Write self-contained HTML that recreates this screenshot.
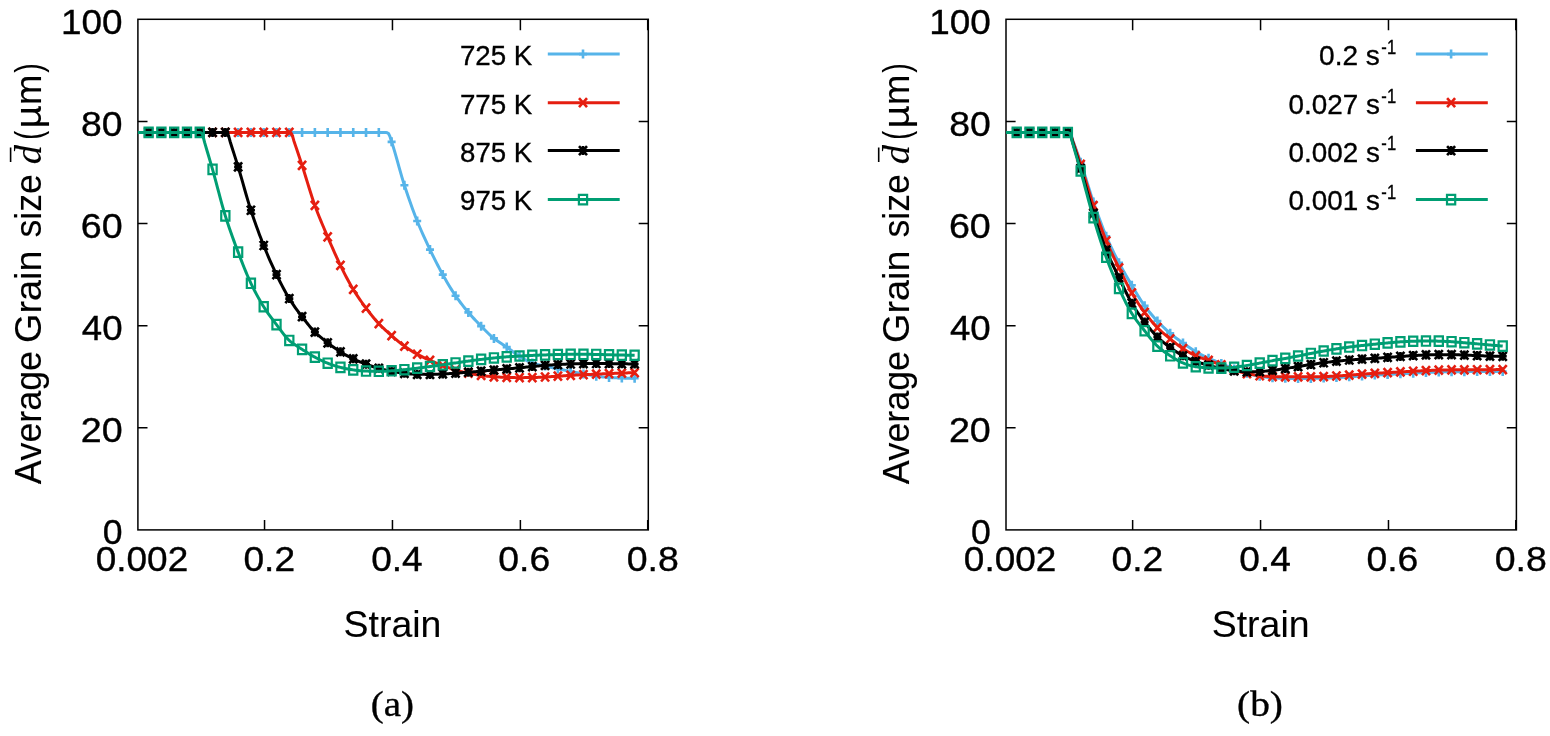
<!DOCTYPE html>
<html><head><meta charset="utf-8"><title>Average grain size vs strain</title>
<style>
html,body{margin:0;padding:0;background:#fff}
body{width:1550px;height:736px;overflow:hidden}
svg{display:block;filter:blur(0.7px)}
text{font-kerning:none;white-space:pre;stroke:#000;stroke-width:0.35px}
text.ax{stroke-width:0.1px}
</style></head><body>
<svg width="1550" height="736" viewBox="0 0 1550 736">
<rect width="1550" height="736" fill="#fff"/>
<g>
<rect x="137.90" y="19.30" width="510.40" height="510.60" fill="none" stroke="#000" stroke-width="1.5"/>
<path d="M264.54 529.90v-10M264.54 19.30v11M392.46 529.90v-10M392.46 19.30v11M520.38 529.90v-10M520.38 19.30v11M647.70 529.90v-10M647.70 19.30v11M137.90 427.78h9.6M648.30 427.78h-9.6M137.90 325.66h9.6M648.30 325.66h-9.6M137.90 223.54h9.6M648.30 223.54h-9.6M137.90 121.42h9.6M648.30 121.42h-9.6" fill="none" stroke="#000" stroke-width="1.5"/>
<polyline points="137.90,132.40 139.40,132.40 140.90,132.40 142.40,132.40 143.90,132.40 145.40,132.40 146.90,132.40 148.40,132.40 148.60,132.40 149.90,132.40 151.40,132.40 152.90,132.40 154.40,132.40 155.90,132.40 157.40,132.40 158.90,132.40 160.40,132.40 161.39,132.40 161.90,132.40 163.40,132.40 164.90,132.40 166.40,132.40 167.90,132.40 169.40,132.40 170.90,132.40 172.40,132.40 173.90,132.40 174.18,132.40 175.40,132.40 176.90,132.40 178.40,132.40 179.90,132.40 181.40,132.40 182.90,132.40 184.40,132.40 185.90,132.40 186.97,132.40 187.40,132.40 188.90,132.40 190.40,132.40 191.90,132.40 193.40,132.40 194.90,132.40 196.40,132.40 197.90,132.40 199.40,132.40 199.76,132.40 200.90,132.40 202.40,132.40 203.90,132.40 205.40,132.40 206.90,132.40 208.40,132.40 209.90,132.40 211.40,132.40 212.55,132.40 212.90,132.40 214.40,132.40 215.90,132.40 217.40,132.40 218.90,132.40 220.40,132.40 221.90,132.40 223.40,132.40 224.90,132.40 225.34,132.40 226.40,132.40 227.90,132.40 229.40,132.40 230.90,132.40 232.40,132.40 233.90,132.40 235.40,132.40 236.90,132.40 238.13,132.40 238.40,132.40 239.90,132.40 241.40,132.40 242.90,132.40 244.40,132.40 245.90,132.40 247.40,132.40 248.90,132.40 250.40,132.40 250.92,132.40 251.90,132.40 253.40,132.40 254.90,132.40 256.40,132.40 257.90,132.40 259.40,132.40 260.90,132.40 262.40,132.40 263.71,132.40 263.90,132.40 265.40,132.40 266.90,132.40 268.40,132.40 269.90,132.40 271.40,132.40 272.90,132.40 274.40,132.40 275.90,132.40 276.50,132.40 277.40,132.40 278.90,132.40 280.40,132.40 281.90,132.40 283.40,132.40 284.90,132.40 286.40,132.40 287.90,132.40 289.29,132.40 289.40,132.40 290.90,132.40 292.40,132.40 293.90,132.40 295.40,132.40 296.90,132.40 298.40,132.40 299.90,132.40 301.40,132.40 302.08,132.40 302.90,132.40 304.40,132.40 305.90,132.40 307.40,132.40 308.90,132.40 310.40,132.40 311.90,132.40 313.40,132.40 314.87,132.40 314.90,132.40 316.40,132.40 317.90,132.40 319.40,132.40 320.90,132.40 322.40,132.40 323.90,132.40 325.40,132.40 326.90,132.40 327.66,132.40 328.40,132.40 329.90,132.40 331.40,132.40 332.90,132.40 334.40,132.40 335.90,132.40 337.40,132.40 338.90,132.40 340.40,132.40 340.45,132.40 341.90,132.40 343.40,132.40 344.90,132.40 346.40,132.40 347.90,132.40 349.40,132.40 350.90,132.40 352.40,132.40 353.24,132.40 353.90,132.40 355.40,132.40 356.90,132.40 358.40,132.40 359.90,132.40 361.40,132.40 362.90,132.40 364.40,132.40 365.90,132.40 366.03,132.40 367.40,132.40 368.90,132.40 370.40,132.40 371.90,132.40 373.40,132.40 374.90,132.40 376.40,132.40 377.90,132.40 378.82,132.40 379.40,132.40 380.90,132.40 382.40,132.40 383.90,132.40 385.40,132.40 385.90,132.40 386.90,132.60 388.40,133.45 388.50,133.52 389.90,136.36 391.40,141.21 391.61,141.84 392.90,145.77 394.40,150.66 395.90,155.82 397.40,161.15 398.90,166.53 400.40,171.89 401.90,177.11 403.40,182.10 404.40,185.25 404.90,186.77 406.40,191.30 407.90,195.74 409.40,200.09 410.90,204.34 412.40,208.49 413.90,212.53 415.40,216.45 416.90,220.26 417.19,220.99 418.40,223.95 419.90,227.53 421.40,231.01 422.90,234.40 424.40,237.71 425.90,240.96 427.40,244.16 428.90,247.32 429.98,249.58 430.40,250.46 431.90,253.56 433.40,256.62 434.90,259.64 436.40,262.61 437.90,265.53 439.40,268.39 440.90,271.19 442.40,273.93 442.77,274.60 443.90,276.62 445.40,279.27 446.90,281.88 448.40,284.45 449.90,286.96 451.40,289.40 452.90,291.78 454.40,294.07 455.56,295.79 455.90,296.28 457.40,298.42 458.90,300.49 460.40,302.50 461.90,304.46 463.40,306.37 464.90,308.24 466.40,310.06 467.90,311.85 468.35,312.38 469.40,313.61 470.90,315.32 472.40,316.99 473.90,318.63 475.40,320.24 476.90,321.81 478.40,323.37 479.90,324.91 481.14,326.17 481.40,326.43 482.90,327.96 484.40,329.50 485.90,331.02 487.40,332.52 488.90,333.98 490.40,335.39 491.90,336.73 493.40,338.00 493.93,338.42 494.90,339.18 496.40,340.28 497.90,341.32 499.40,342.32 500.90,343.29 502.40,344.25 503.90,345.21 505.40,346.20 506.72,347.11 506.90,347.23 508.40,348.31 509.90,349.42 511.40,350.56 512.90,351.69 514.40,352.81 515.90,353.90 517.40,354.94 518.90,355.92 519.51,356.30 520.40,356.83 521.90,357.74 523.40,358.62 524.90,359.49 526.40,360.31 527.90,361.08 529.40,361.79 530.90,362.42 532.30,362.93 532.40,362.97 533.90,363.44 535.40,363.86 536.90,364.25 538.40,364.61 539.90,364.95 541.40,365.28 542.90,365.60 544.40,365.94 545.09,366.09 545.90,366.28 547.40,366.62 548.90,366.95 550.40,367.28 551.90,367.61 553.40,367.93 554.90,368.24 556.40,368.56 557.88,368.87 557.90,368.87 559.40,369.18 560.90,369.49 562.40,369.79 563.90,370.09 565.40,370.39 566.90,370.69 568.40,370.99 569.90,371.28 570.67,371.44 571.40,371.59 572.90,371.89 574.40,372.20 575.90,372.51 577.40,372.82 578.90,373.12 580.40,373.42 581.90,373.71 583.40,374.00 583.46,374.01 584.90,374.27 586.40,374.55 587.90,374.83 589.40,375.10 590.90,375.36 592.40,375.61 593.90,375.85 595.40,376.07 596.25,376.18 596.90,376.26 598.40,376.45 599.90,376.63 601.40,376.80 602.90,376.96 604.40,377.12 605.90,377.25 607.40,377.37 608.90,377.48 609.04,377.49 610.40,377.57 611.90,377.65 613.40,377.73 614.90,377.80 616.40,377.87 617.90,377.93 619.40,377.98 620.90,378.02 621.83,378.04 622.40,378.06 623.90,378.09 625.40,378.13 626.90,378.16 628.40,378.18 629.90,378.21 631.40,378.23 632.90,378.24 634.40,378.25 634.62,378.25" fill="none" stroke="#56B4E9" stroke-width="3.0" stroke-linejoin="round"/>
<path d="M144.60 132.40H152.60M148.60 127.90V136.90M157.39 132.40H165.39M161.39 127.90V136.90M170.18 132.40H178.18M174.18 127.90V136.90M182.97 132.40H190.97M186.97 127.90V136.90M195.76 132.40H203.76M199.76 127.90V136.90M208.55 132.40H216.55M212.55 127.90V136.90M221.34 132.40H229.34M225.34 127.90V136.90M234.13 132.40H242.13M238.13 127.90V136.90M246.92 132.40H254.92M250.92 127.90V136.90M259.71 132.40H267.71M263.71 127.90V136.90M272.50 132.40H280.50M276.50 127.90V136.90M285.29 132.40H293.29M289.29 127.90V136.90M298.08 132.40H306.08M302.08 127.90V136.90M310.87 132.40H318.87M314.87 127.90V136.90M323.66 132.40H331.66M327.66 127.90V136.90M336.45 132.40H344.45M340.45 127.90V136.90M349.24 132.40H357.24M353.24 127.90V136.90M362.03 132.40H370.03M366.03 127.90V136.90M374.82 132.40H382.82M378.82 127.90V136.90M387.61 141.84H395.61M391.61 137.34V146.34M400.40 185.25H408.40M404.40 180.75V189.75M413.19 220.99H421.19M417.19 216.49V225.49M425.98 249.58H433.98M429.98 245.08V254.08M438.77 274.60H446.77M442.77 270.10V279.10M451.56 295.79H459.56M455.56 291.29V300.29M464.35 312.38H472.35M468.35 307.88V316.88M477.14 326.17H485.14M481.14 321.67V330.67M489.93 338.42H497.93M493.93 333.92V342.92M502.72 347.11H510.72M506.72 342.61V351.61M515.51 356.30H523.51M519.51 351.80V360.80M528.30 362.93H536.30M532.30 358.43V367.43M541.09 366.09H549.09M545.09 361.59V370.59M553.88 368.87H561.88M557.88 364.37V373.37M566.67 371.44H574.67M570.67 366.94V375.94M579.46 374.01H587.46M583.46 369.51V378.51M592.25 376.18H600.25M596.25 371.68V380.68M605.04 377.49H613.04M609.04 372.99V381.99M617.83 378.04H625.83M621.83 373.54V382.54M630.62 378.25H638.62M634.62 373.75V382.75" fill="none" stroke="#56B4E9" stroke-width="2.6"/>
<polyline points="137.90,132.40 139.40,132.40 140.90,132.40 142.40,132.40 143.90,132.40 145.40,132.40 146.90,132.40 148.40,132.40 148.60,132.40 149.90,132.40 151.40,132.40 152.90,132.40 154.40,132.40 155.90,132.40 157.40,132.40 158.90,132.40 160.40,132.40 161.39,132.40 161.90,132.40 163.40,132.40 164.90,132.40 166.40,132.40 167.90,132.40 169.40,132.40 170.90,132.40 172.40,132.40 173.90,132.40 174.18,132.40 175.40,132.40 176.90,132.40 178.40,132.40 179.90,132.40 181.40,132.40 182.90,132.40 184.40,132.40 185.90,132.40 186.97,132.40 187.40,132.40 188.90,132.40 190.40,132.40 191.90,132.40 193.40,132.40 194.90,132.40 196.40,132.40 197.90,132.40 199.40,132.40 199.76,132.40 200.90,132.40 202.40,132.40 203.90,132.40 205.40,132.40 206.90,132.40 208.40,132.40 209.90,132.40 211.40,132.40 212.55,132.40 212.90,132.40 214.40,132.40 215.90,132.40 217.40,132.40 218.90,132.40 220.40,132.40 221.90,132.40 223.40,132.40 224.90,132.40 225.34,132.40 226.40,132.40 227.90,132.40 229.40,132.40 230.90,132.40 232.40,132.40 233.90,132.40 235.40,132.40 236.90,132.40 238.13,132.40 238.40,132.40 239.90,132.40 241.40,132.40 242.90,132.40 244.40,132.40 245.90,132.40 247.40,132.40 248.90,132.40 250.40,132.40 250.92,132.40 251.90,132.40 253.40,132.40 254.90,132.40 256.40,132.40 257.90,132.40 259.40,132.40 260.90,132.40 262.40,132.40 263.71,132.40 263.90,132.40 265.40,132.40 266.90,132.40 268.40,132.40 269.90,132.40 271.40,132.40 272.90,132.40 274.40,132.40 275.90,132.40 276.50,132.40 277.40,132.40 278.90,132.40 280.40,132.40 281.90,132.40 283.40,132.40 284.90,132.40 286.40,132.40 287.90,132.40 288.80,132.40 289.40,132.47 290.90,133.17 291.40,133.52 292.40,135.64 293.90,140.90 294.00,141.21 295.40,145.36 296.90,149.80 298.40,154.26 299.90,158.74 301.40,163.26 302.08,165.33 302.90,167.86 304.40,172.61 305.90,177.45 307.40,182.35 308.90,187.23 310.40,192.04 311.90,196.73 313.40,201.23 314.87,205.41 314.90,205.50 316.40,209.54 317.90,213.44 319.40,217.22 320.90,220.89 322.40,224.49 323.90,228.03 325.40,231.54 326.90,235.04 327.66,236.82 328.40,238.55 329.90,242.05 331.40,245.52 332.90,248.97 334.40,252.37 335.90,255.72 337.40,258.99 338.90,262.20 340.40,265.31 340.45,265.41 341.90,268.35 343.40,271.35 344.90,274.31 346.40,277.20 347.90,280.03 349.40,282.78 350.90,285.44 352.40,288.01 353.24,289.41 353.90,290.48 355.40,292.87 356.90,295.18 358.40,297.42 359.90,299.61 361.40,301.74 362.90,303.82 364.40,305.86 365.90,307.87 366.03,308.04 367.40,309.85 368.90,311.81 370.40,313.73 371.90,315.61 373.40,317.45 374.90,319.23 376.40,320.96 377.90,322.63 378.82,323.62 379.40,324.23 380.90,325.76 382.40,327.25 383.90,328.69 385.40,330.08 386.90,331.45 388.40,332.79 389.90,334.12 391.40,335.43 391.61,335.62 392.90,336.74 394.40,338.04 395.90,339.33 397.40,340.60 398.90,341.84 400.40,343.05 401.90,344.22 403.40,345.36 404.40,346.08 404.90,346.44 406.40,347.50 407.90,348.53 409.40,349.53 410.90,350.51 412.40,351.45 413.90,352.37 415.40,353.25 416.90,354.09 417.19,354.25 418.40,354.91 419.90,355.69 421.40,356.44 422.90,357.17 424.40,357.88 425.90,358.57 427.40,359.24 428.90,359.91 429.98,360.38 430.40,360.56 431.90,361.20 433.40,361.83 434.90,362.44 436.40,363.04 437.90,363.62 439.40,364.20 440.90,364.78 442.40,365.35 442.77,365.49 443.90,365.92 445.40,366.49 446.90,367.07 448.40,367.64 449.90,368.20 451.40,368.74 452.90,369.25 454.40,369.74 455.56,370.08 455.90,370.18 457.40,370.60 458.90,370.99 460.40,371.37 461.90,371.74 463.40,372.09 464.90,372.42 466.40,372.75 467.90,373.06 468.35,373.16 469.40,373.37 470.90,373.67 472.40,373.97 473.90,374.26 475.40,374.54 476.90,374.80 478.40,375.05 479.90,375.28 481.14,375.45 481.40,375.48 482.90,375.68 484.40,375.86 485.90,376.04 487.40,376.20 488.90,376.35 490.40,376.50 491.90,376.63 493.40,376.74 493.93,376.78 494.90,376.84 496.40,376.94 497.90,377.03 499.40,377.12 500.90,377.20 502.40,377.27 503.90,377.34 505.40,377.39 506.72,377.43 506.90,377.43 508.40,377.47 509.90,377.51 511.40,377.55 512.90,377.58 514.40,377.61 515.90,377.63 517.40,377.65 518.90,377.65 519.51,377.66 520.40,377.65 521.90,377.65 523.40,377.64 524.90,377.62 526.40,377.61 527.90,377.59 529.40,377.57 530.90,377.54 532.30,377.52 532.40,377.52 533.90,377.48 535.40,377.44 536.90,377.39 538.40,377.33 539.90,377.26 541.40,377.19 542.90,377.11 544.40,377.04 545.09,377.01 545.90,376.97 547.40,376.88 548.90,376.80 550.40,376.70 551.90,376.60 553.40,376.51 554.90,376.40 556.40,376.31 557.88,376.21 557.90,376.21 559.40,376.11 560.90,376.01 562.40,375.91 563.90,375.81 565.40,375.71 566.90,375.61 568.40,375.52 569.90,375.42 570.67,375.38 571.40,375.34 572.90,375.25 574.40,375.17 575.90,375.09 577.40,375.01 578.90,374.93 580.40,374.86 581.90,374.78 583.40,374.71 583.46,374.71 584.90,374.64 586.40,374.57 587.90,374.51 589.40,374.44 590.90,374.38 592.40,374.32 593.90,374.25 595.40,374.19 596.25,374.15 596.90,374.12 598.40,374.06 599.90,373.99 601.40,373.92 602.90,373.86 604.40,373.79 605.90,373.73 607.40,373.66 608.90,373.60 609.04,373.59 610.40,373.53 611.90,373.47 613.40,373.41 614.90,373.34 616.40,373.28 617.90,373.22 619.40,373.16 620.90,373.10 621.83,373.07 622.40,373.04 623.90,372.99 625.40,372.94 626.90,372.88 628.40,372.83 629.90,372.78 631.40,372.73 632.90,372.69 634.40,372.64 634.62,372.64" fill="none" stroke="#E51E10" stroke-width="3.0" stroke-linejoin="round"/>
<path d="M144.60 127.90L152.60 136.90M144.60 136.90L152.60 127.90M157.39 127.90L165.39 136.90M157.39 136.90L165.39 127.90M170.18 127.90L178.18 136.90M170.18 136.90L178.18 127.90M182.97 127.90L190.97 136.90M182.97 136.90L190.97 127.90M195.76 127.90L203.76 136.90M195.76 136.90L203.76 127.90M208.55 127.90L216.55 136.90M208.55 136.90L216.55 127.90M221.34 127.90L229.34 136.90M221.34 136.90L229.34 127.90M234.13 127.90L242.13 136.90M234.13 136.90L242.13 127.90M246.92 127.90L254.92 136.90M246.92 136.90L254.92 127.90M259.71 127.90L267.71 136.90M259.71 136.90L267.71 127.90M272.50 127.90L280.50 136.90M272.50 136.90L280.50 127.90M285.29 127.95L293.29 136.95M285.29 136.95L293.29 127.95M298.08 160.83L306.08 169.83M298.08 169.83L306.08 160.83M310.87 200.91L318.87 209.91M310.87 209.91L318.87 200.91M323.66 232.32L331.66 241.32M323.66 241.32L331.66 232.32M336.45 260.91L344.45 269.91M336.45 269.91L344.45 260.91M349.24 284.91L357.24 293.91M349.24 293.91L357.24 284.91M362.03 303.54L370.03 312.54M362.03 312.54L370.03 303.54M374.82 319.12L382.82 328.12M374.82 328.12L382.82 319.12M387.61 331.12L395.61 340.12M387.61 340.12L395.61 331.12M400.40 341.58L408.40 350.58M400.40 350.58L408.40 341.58M413.19 349.75L421.19 358.75M413.19 358.75L421.19 349.75M425.98 355.88L433.98 364.88M425.98 364.88L433.98 355.88M438.77 360.99L446.77 369.99M438.77 369.99L446.77 360.99M451.56 365.58L459.56 374.58M451.56 374.58L459.56 365.58M464.35 368.66L472.35 377.66M464.35 377.66L472.35 368.66M477.14 370.95L485.14 379.95M477.14 379.95L485.14 370.95M489.93 372.28L497.93 381.28M489.93 381.28L497.93 372.28M502.72 372.93L510.72 381.93M502.72 381.93L510.72 372.93M515.51 373.16L523.51 382.16M515.51 382.16L523.51 373.16M528.30 373.02L536.30 382.02M528.30 382.02L536.30 373.02M541.09 372.51L549.09 381.51M541.09 381.51L549.09 372.51M553.88 371.71L561.88 380.71M553.88 380.71L561.88 371.71M566.67 370.88L574.67 379.88M566.67 379.88L574.67 370.88M579.46 370.21L587.46 379.21M579.46 379.21L587.46 370.21M592.25 369.65L600.25 378.65M592.25 378.65L600.25 369.65M605.04 369.09L613.04 378.09M605.04 378.09L613.04 369.09M617.83 368.57L625.83 377.57M617.83 377.57L625.83 368.57M630.62 368.14L638.62 377.14M630.62 377.14L638.62 368.14" fill="none" stroke="#E51E10" stroke-width="2.6"/>
<polyline points="137.90,132.40 139.40,132.40 140.90,132.40 142.40,132.40 143.90,132.40 145.40,132.40 146.90,132.40 148.40,132.40 148.60,132.40 149.90,132.40 151.40,132.40 152.90,132.40 154.40,132.40 155.90,132.40 157.40,132.40 158.90,132.40 160.40,132.40 161.39,132.40 161.90,132.40 163.40,132.40 164.90,132.40 166.40,132.40 167.90,132.40 169.40,132.40 170.90,132.40 172.40,132.40 173.90,132.40 174.18,132.40 175.40,132.40 176.90,132.40 178.40,132.40 179.90,132.40 181.40,132.40 182.90,132.40 184.40,132.40 185.90,132.40 186.97,132.40 187.40,132.40 188.90,132.40 190.40,132.40 191.90,132.40 193.40,132.40 194.90,132.40 196.40,132.40 197.90,132.40 199.40,132.40 199.76,132.40 200.90,132.40 202.40,132.40 203.90,132.40 205.40,132.40 206.90,132.40 208.40,132.40 209.90,132.40 211.40,132.40 212.55,132.40 212.90,132.40 214.40,132.40 215.90,132.40 217.40,132.40 218.90,132.40 220.40,132.40 221.90,132.40 223.40,132.40 224.90,132.40 225.00,132.40 226.40,132.76 227.60,133.52 227.90,133.91 229.40,138.81 230.20,141.75 230.90,143.97 232.40,148.68 233.90,153.38 235.40,158.10 236.90,162.88 238.13,166.86 238.40,167.75 239.90,172.78 241.40,177.95 242.90,183.21 244.40,188.49 245.90,193.73 247.40,198.88 248.90,203.88 250.40,208.67 250.92,210.26 251.90,213.22 253.40,217.66 254.90,221.99 256.40,226.22 257.90,230.36 259.40,234.40 260.90,238.34 262.40,242.20 263.71,245.50 263.90,245.97 265.40,249.66 266.90,253.27 268.40,256.81 269.90,260.28 271.40,263.66 272.90,266.97 274.40,270.20 275.90,273.36 276.50,274.60 277.40,276.44 278.90,279.48 280.40,282.47 281.90,285.40 283.40,288.26 284.90,291.03 286.40,293.72 287.90,296.30 289.29,298.60 289.40,298.78 290.90,301.14 292.40,303.43 293.90,305.63 295.40,307.77 296.90,309.85 298.40,311.88 299.90,313.87 301.40,315.84 302.08,316.72 302.90,317.79 304.40,319.73 305.90,321.66 307.40,323.55 308.90,325.40 310.40,327.19 311.90,328.91 313.40,330.54 314.87,332.04 314.90,332.07 316.40,333.51 317.90,334.89 319.40,336.20 320.90,337.46 322.40,338.68 323.90,339.87 325.40,341.04 326.90,342.20 327.66,342.78 328.40,343.35 329.90,344.49 331.40,345.61 332.90,346.72 334.40,347.80 335.90,348.86 337.40,349.88 338.90,350.87 340.40,351.81 340.45,351.84 341.90,352.73 343.40,353.62 344.90,354.48 346.40,355.32 347.90,356.14 349.40,356.93 350.90,357.69 352.40,358.43 353.24,358.83 353.90,359.14 355.40,359.84 356.90,360.51 358.40,361.16 359.90,361.80 361.40,362.41 362.90,363.01 364.40,363.59 365.90,364.15 366.03,364.19 367.40,364.69 368.90,365.22 370.40,365.74 371.90,366.24 373.40,366.73 374.90,367.20 376.40,367.65 377.90,368.08 378.82,368.34 379.40,368.50 380.90,368.90 382.40,369.30 383.90,369.68 385.40,370.05 386.90,370.40 388.40,370.73 389.90,371.05 391.40,371.34 391.61,371.38 392.90,371.61 394.40,371.88 395.90,372.14 397.40,372.39 398.90,372.62 400.40,372.84 401.90,373.04 403.40,373.21 404.40,373.32 404.90,373.37 406.40,373.52 407.90,373.66 409.40,373.80 410.90,373.93 412.40,374.04 413.90,374.14 415.40,374.21 416.90,374.26 417.19,374.27 418.40,374.29 419.90,374.31 421.40,374.34 422.90,374.36 424.40,374.37 425.90,374.39 427.40,374.40 428.90,374.40 429.98,374.40 430.40,374.40 431.90,374.39 433.40,374.35 434.90,374.31 436.40,374.25 437.90,374.19 439.40,374.12 440.90,374.05 442.40,373.98 442.77,373.96 443.90,373.91 445.40,373.83 446.90,373.74 448.40,373.65 449.90,373.56 451.40,373.46 452.90,373.36 454.40,373.26 455.56,373.18 455.90,373.15 457.40,373.05 458.90,372.94 460.40,372.83 461.90,372.72 463.40,372.61 464.90,372.49 466.40,372.37 467.90,372.26 468.35,372.22 469.40,372.14 470.90,372.02 472.40,371.89 473.90,371.77 475.40,371.64 476.90,371.51 478.40,371.39 479.90,371.26 481.14,371.15 481.40,371.13 482.90,371.00 484.40,370.87 485.90,370.74 487.40,370.61 488.90,370.47 490.40,370.34 491.90,370.21 493.40,370.08 493.93,370.03 494.90,369.95 496.40,369.82 497.90,369.69 499.40,369.56 500.90,369.44 502.40,369.31 503.90,369.18 505.40,369.05 506.72,368.93 506.90,368.92 508.40,368.79 509.90,368.65 511.40,368.52 512.90,368.39 514.40,368.25 515.90,368.12 517.40,367.98 518.90,367.84 519.51,367.78 520.40,367.70 521.90,367.55 523.40,367.41 524.90,367.26 526.40,367.11 527.90,366.95 529.40,366.81 530.90,366.66 532.30,366.52 532.40,366.51 533.90,366.37 535.40,366.23 536.90,366.08 538.40,365.94 539.90,365.80 541.40,365.66 542.90,365.53 544.40,365.41 545.09,365.36 545.90,365.30 547.40,365.19 548.90,365.08 550.40,364.98 551.90,364.88 553.40,364.78 554.90,364.69 556.40,364.61 557.88,364.53 557.90,364.53 559.40,364.45 560.90,364.38 562.40,364.31 563.90,364.25 565.40,364.18 566.90,364.12 568.40,364.07 569.90,364.01 570.67,363.99 571.40,363.96 572.90,363.91 574.40,363.86 575.90,363.82 577.40,363.77 578.90,363.73 580.40,363.69 581.90,363.66 583.40,363.64 583.46,363.64 584.90,363.61 586.40,363.59 587.90,363.57 589.40,363.55 590.90,363.54 592.40,363.52 593.90,363.51 595.40,363.51 596.25,363.51 596.90,363.51 598.40,363.51 599.90,363.52 601.40,363.53 602.90,363.54 604.40,363.56 605.90,363.57 607.40,363.59 608.90,363.60 609.04,363.60 610.40,363.62 611.90,363.64 613.40,363.66 614.90,363.69 616.40,363.71 617.90,363.73 619.40,363.76 620.90,363.78 621.83,363.80 622.40,363.80 623.90,363.82 625.40,363.84 626.90,363.86 628.40,363.88 629.90,363.90 631.40,363.92 632.90,363.94 634.40,363.95 634.62,363.95" fill="none" stroke="#000000" stroke-width="3.0" stroke-linejoin="round"/>
<path d="M144.60 132.40H152.60M148.60 127.90V136.90M144.60 127.90L152.60 136.90M144.60 136.90L152.60 127.90M157.39 132.40H165.39M161.39 127.90V136.90M157.39 127.90L165.39 136.90M157.39 136.90L165.39 127.90M170.18 132.40H178.18M174.18 127.90V136.90M170.18 127.90L178.18 136.90M170.18 136.90L178.18 127.90M182.97 132.40H190.97M186.97 127.90V136.90M182.97 127.90L190.97 136.90M182.97 136.90L190.97 127.90M195.76 132.40H203.76M199.76 127.90V136.90M195.76 127.90L203.76 136.90M195.76 136.90L203.76 127.90M208.55 132.40H216.55M212.55 127.90V136.90M208.55 127.90L216.55 136.90M208.55 136.90L216.55 127.90M221.34 132.42H229.34M225.34 127.92V136.92M221.34 127.92L229.34 136.92M221.34 136.92L229.34 127.92M234.13 166.86H242.13M238.13 162.36V171.36M234.13 162.36L242.13 171.36M234.13 171.36L242.13 162.36M246.92 210.26H254.92M250.92 205.76V214.76M246.92 205.76L254.92 214.76M246.92 214.76L254.92 205.76M259.71 245.50H267.71M263.71 241.00V250.00M259.71 241.00L267.71 250.00M259.71 250.00L267.71 241.00M272.50 274.60H280.50M276.50 270.10V279.10M272.50 270.10L280.50 279.10M272.50 279.10L280.50 270.10M285.29 298.60H293.29M289.29 294.10V303.10M285.29 294.10L293.29 303.10M285.29 303.10L293.29 294.10M298.08 316.72H306.08M302.08 312.22V321.22M298.08 312.22L306.08 321.22M298.08 321.22L306.08 312.22M310.87 332.04H318.87M314.87 327.54V336.54M310.87 327.54L318.87 336.54M310.87 336.54L318.87 327.54M323.66 342.78H331.66M327.66 338.28V347.28M323.66 338.28L331.66 347.28M323.66 347.28L331.66 338.28M336.45 351.84H344.45M340.45 347.34V356.34M336.45 347.34L344.45 356.34M336.45 356.34L344.45 347.34M349.24 358.83H357.24M353.24 354.33V363.33M349.24 354.33L357.24 363.33M349.24 363.33L357.24 354.33M362.03 364.19H370.03M366.03 359.69V368.69M362.03 359.69L370.03 368.69M362.03 368.69L370.03 359.69M374.82 368.34H382.82M378.82 363.84V372.84M374.82 363.84L382.82 372.84M374.82 372.84L382.82 363.84M387.61 371.38H395.61M391.61 366.88V375.88M387.61 366.88L395.61 375.88M387.61 375.88L395.61 366.88M400.40 373.32H408.40M404.40 368.82V377.82M400.40 368.82L408.40 377.82M400.40 377.82L408.40 368.82M413.19 374.27H421.19M417.19 369.77V378.77M413.19 369.77L421.19 378.77M413.19 378.77L421.19 369.77M425.98 374.40H433.98M429.98 369.90V378.90M425.98 369.90L433.98 378.90M425.98 378.90L433.98 369.90M438.77 373.96H446.77M442.77 369.46V378.46M438.77 369.46L446.77 378.46M438.77 378.46L446.77 369.46M451.56 373.18H459.56M455.56 368.68V377.68M451.56 368.68L459.56 377.68M451.56 377.68L459.56 368.68M464.35 372.22H472.35M468.35 367.72V376.72M464.35 367.72L472.35 376.72M464.35 376.72L472.35 367.72M477.14 371.15H485.14M481.14 366.65V375.65M477.14 366.65L485.14 375.65M477.14 375.65L485.14 366.65M489.93 370.03H497.93M493.93 365.53V374.53M489.93 365.53L497.93 374.53M489.93 374.53L497.93 365.53M502.72 368.93H510.72M506.72 364.43V373.43M502.72 364.43L510.72 373.43M502.72 373.43L510.72 364.43M515.51 367.78H523.51M519.51 363.28V372.28M515.51 363.28L523.51 372.28M515.51 372.28L523.51 363.28M528.30 366.52H536.30M532.30 362.02V371.02M528.30 362.02L536.30 371.02M528.30 371.02L536.30 362.02M541.09 365.36H549.09M545.09 360.86V369.86M541.09 360.86L549.09 369.86M541.09 369.86L549.09 360.86M553.88 364.53H561.88M557.88 360.03V369.03M553.88 360.03L561.88 369.03M553.88 369.03L561.88 360.03M566.67 363.99H574.67M570.67 359.49V368.49M566.67 359.49L574.67 368.49M566.67 368.49L574.67 359.49M579.46 363.64H587.46M583.46 359.14V368.14M579.46 359.14L587.46 368.14M579.46 368.14L587.46 359.14M592.25 363.51H600.25M596.25 359.01V368.01M592.25 359.01L600.25 368.01M592.25 368.01L600.25 359.01M605.04 363.60H613.04M609.04 359.10V368.10M605.04 359.10L613.04 368.10M605.04 368.10L613.04 359.10M617.83 363.80H625.83M621.83 359.30V368.30M617.83 359.30L625.83 368.30M617.83 368.30L625.83 359.30M630.62 363.95H638.62M634.62 359.45V368.45M630.62 359.45L638.62 368.45M630.62 368.45L638.62 359.45" fill="none" stroke="#000000" stroke-width="2.6"/>
<polyline points="137.90,132.40 139.40,132.40 140.90,132.40 142.40,132.40 143.90,132.40 145.40,132.40 146.90,132.40 148.40,132.40 148.60,132.40 149.90,132.40 151.40,132.40 152.90,132.40 154.40,132.40 155.90,132.40 157.40,132.40 158.90,132.40 160.40,132.40 161.39,132.40 161.90,132.40 163.40,132.40 164.90,132.40 166.40,132.40 167.90,132.40 169.40,132.40 170.90,132.40 172.40,132.40 173.90,132.40 174.18,132.40 175.40,132.40 176.90,132.40 178.40,132.40 179.90,132.40 181.40,132.40 182.90,132.40 184.40,132.40 185.90,132.40 186.97,132.40 187.40,132.40 188.90,132.40 190.40,132.40 191.90,132.40 193.40,132.40 194.90,132.40 196.40,132.40 197.90,132.40 199.40,132.40 200.90,132.81 202.00,133.52 202.40,134.13 203.90,139.67 204.60,142.43 205.40,145.15 206.90,150.21 208.40,155.25 209.90,160.31 211.40,165.43 212.55,169.42 212.90,170.65 214.40,176.06 215.90,181.64 217.40,187.30 218.90,192.98 220.40,198.61 221.90,204.12 223.40,209.43 224.90,214.46 225.34,215.88 226.40,219.21 227.90,223.80 229.40,228.24 230.90,232.56 232.40,236.76 233.90,240.88 235.40,244.92 236.90,248.90 238.13,252.13 238.40,252.84 239.90,256.76 241.40,260.64 242.90,264.48 244.40,268.24 245.90,271.91 247.40,275.47 248.90,278.90 250.40,282.18 250.92,283.28 251.90,285.31 253.40,288.35 254.90,291.29 256.40,294.14 257.90,296.90 259.40,299.57 260.90,302.16 262.40,304.66 263.71,306.77 263.90,307.07 265.40,309.39 266.90,311.62 268.40,313.77 269.90,315.86 271.40,317.90 272.90,319.90 274.40,321.88 275.90,323.85 276.50,324.64 277.40,325.83 278.90,327.85 280.40,329.89 281.90,331.91 283.40,333.88 284.90,335.77 286.40,337.53 287.90,339.14 289.29,340.47 289.40,340.56 290.90,341.83 292.40,343.00 293.90,344.09 295.40,345.11 296.90,346.08 298.40,347.03 299.90,347.97 301.40,348.92 302.08,349.36 302.90,349.89 304.40,350.86 305.90,351.82 307.40,352.77 308.90,353.70 310.40,354.62 311.90,355.50 313.40,356.36 314.87,357.16 314.90,357.17 316.40,357.97 317.90,358.75 319.40,359.51 320.90,360.25 322.40,360.96 323.90,361.65 325.40,362.30 326.90,362.92 327.66,363.22 328.40,363.50 329.90,364.07 331.40,364.61 332.90,365.14 334.40,365.65 335.90,366.12 337.40,366.57 338.90,366.99 340.40,367.38 340.45,367.39 341.90,367.74 343.40,368.08 344.90,368.41 346.40,368.73 347.90,369.02 349.40,369.29 350.90,369.54 352.40,369.76 353.24,369.87 353.90,369.95 355.40,370.14 356.90,370.32 358.40,370.49 359.90,370.64 361.40,370.78 362.90,370.90 364.40,370.99 365.90,371.05 366.03,371.06 367.40,371.10 368.90,371.15 370.40,371.19 371.90,371.22 373.40,371.25 374.90,371.28 376.40,371.30 377.90,371.31 378.82,371.31 379.40,371.31 380.90,371.29 382.40,371.25 383.90,371.20 385.40,371.14 386.90,371.07 388.40,370.99 389.90,370.91 391.40,370.83 391.61,370.82 392.90,370.74 394.40,370.64 395.90,370.52 397.40,370.39 398.90,370.25 400.40,370.10 401.90,369.95 403.40,369.80 404.40,369.70 404.90,369.65 406.40,369.49 407.90,369.32 409.40,369.14 410.90,368.96 412.40,368.77 413.90,368.58 415.40,368.39 416.90,368.20 417.19,368.17 418.40,368.02 419.90,367.83 421.40,367.63 422.90,367.44 424.40,367.24 425.90,367.05 427.40,366.85 428.90,366.65 429.98,366.51 430.40,366.45 431.90,366.25 433.40,366.06 434.90,365.86 436.40,365.65 437.90,365.45 439.40,365.25 440.90,365.04 442.40,364.84 442.77,364.78 443.90,364.63 445.40,364.41 446.90,364.20 448.40,363.98 449.90,363.76 451.40,363.54 452.90,363.32 454.40,363.10 455.56,362.93 455.90,362.88 457.40,362.67 458.90,362.45 460.40,362.23 461.90,362.00 463.40,361.79 464.90,361.57 466.40,361.35 467.90,361.14 468.35,361.08 469.40,360.94 470.90,360.73 472.40,360.53 473.90,360.33 475.40,360.13 476.90,359.94 478.40,359.75 479.90,359.56 481.14,359.41 481.40,359.38 482.90,359.20 484.40,359.02 485.90,358.84 487.40,358.67 488.90,358.50 490.40,358.34 491.90,358.18 493.40,358.02 493.93,357.97 494.90,357.88 496.40,357.73 497.90,357.59 499.40,357.45 500.90,357.31 502.40,357.18 503.90,357.06 505.40,356.94 506.72,356.84 506.90,356.83 508.40,356.72 509.90,356.61 511.40,356.51 512.90,356.41 514.40,356.32 515.90,356.23 517.40,356.14 518.90,356.06 519.51,356.02 520.40,355.98 521.90,355.90 523.40,355.82 524.90,355.75 526.40,355.68 527.90,355.61 529.40,355.55 530.90,355.48 532.30,355.42 532.40,355.41 533.90,355.35 535.40,355.29 536.90,355.22 538.40,355.16 539.90,355.10 541.40,355.04 542.90,354.99 544.40,354.93 545.09,354.91 545.90,354.88 547.40,354.83 548.90,354.77 550.40,354.72 551.90,354.67 553.40,354.63 554.90,354.58 556.40,354.54 557.88,354.51 557.90,354.51 559.40,354.48 560.90,354.44 562.40,354.41 563.90,354.38 565.40,354.36 566.90,354.33 568.40,354.32 569.90,354.30 570.67,354.30 571.40,354.30 572.90,354.30 574.40,354.29 575.90,354.29 577.40,354.29 578.90,354.29 580.40,354.29 581.90,354.29 583.40,354.29 583.46,354.29 584.90,354.29 586.40,354.30 587.90,354.31 589.40,354.33 590.90,354.35 592.40,354.38 593.90,354.40 595.40,354.43 596.25,354.45 596.90,354.46 598.40,354.49 599.90,354.52 601.40,354.56 602.90,354.60 604.40,354.64 605.90,354.68 607.40,354.72 608.90,354.76 609.04,354.76 610.40,354.80 611.90,354.84 613.40,354.88 614.90,354.92 616.40,354.96 617.90,355.00 619.40,355.03 620.90,355.07 621.83,355.08 622.40,355.09 623.90,355.12 625.40,355.15 626.90,355.17 628.40,355.20 629.90,355.22 631.40,355.24 632.90,355.26 634.40,355.27 634.62,355.27" fill="none" stroke="#009E73" stroke-width="3.0" stroke-linejoin="round"/>
<path d="M144.50 127.70H152.70V137.10H144.50ZM157.29 127.70H165.49V137.10H157.29ZM170.08 127.70H178.28V137.10H170.08ZM182.87 127.70H191.07V137.10H182.87ZM195.66 127.72H203.86V137.12H195.66ZM208.45 164.72H216.65V174.12H208.45ZM221.24 211.18H229.44V220.58H221.24ZM234.03 247.43H242.23V256.83H234.03ZM246.82 278.58H255.02V287.98H246.82ZM259.61 302.07H267.81V311.47H259.61ZM272.40 319.94H280.60V329.34H272.40ZM285.19 335.77H293.39V345.17H285.19ZM297.98 344.66H306.18V354.06H297.98ZM310.77 352.46H318.97V361.86H310.77ZM323.56 358.52H331.76V367.92H323.56ZM336.35 362.69H344.55V372.09H336.35ZM349.14 365.17H357.34V374.57H349.14ZM361.93 366.36H370.13V375.76H361.93ZM374.72 366.61H382.92V376.01H374.72ZM387.51 366.12H395.71V375.52H387.51ZM400.30 365.00H408.50V374.40H400.30ZM413.09 363.47H421.29V372.87H413.09ZM425.88 361.81H434.08V371.21H425.88ZM438.67 360.08H446.87V369.48H438.67ZM451.46 358.23H459.66V367.63H451.46ZM464.25 356.38H472.45V365.78H464.25ZM477.04 354.71H485.24V364.11H477.04ZM489.83 353.27H498.03V362.67H489.83ZM502.62 352.14H510.82V361.54H502.62ZM515.41 351.32H523.61V360.72H515.41ZM528.20 350.72H536.40V360.12H528.20ZM540.99 350.21H549.19V359.61H540.99ZM553.78 349.81H561.98V359.21H553.78ZM566.57 349.60H574.77V359.00H566.57ZM579.36 349.59H587.56V358.99H579.36ZM592.15 349.75H600.35V359.15H592.15ZM604.94 350.06H613.14V359.46H604.94ZM617.73 350.38H625.93V359.78H617.73ZM630.52 350.57H638.72V359.97H630.52Z" fill="none" stroke="#009E73" stroke-width="2.2"/>
<text transform="translate(102.81,544.10) scale(1.0103,1)" font-family="Liberation Sans, sans-serif" font-size="35.2" fill="#000">0</text>
<text transform="translate(80.81,441.98) scale(1.0692,1)" font-family="Liberation Sans, sans-serif" font-size="35.2" fill="#000">20</text>
<text transform="translate(81.86,339.86) scale(1.0414,1)" font-family="Liberation Sans, sans-serif" font-size="35.2" fill="#000">40</text>
<text transform="translate(80.79,237.74) scale(1.0697,1)" font-family="Liberation Sans, sans-serif" font-size="35.2" fill="#000">60</text>
<text transform="translate(81.08,135.62) scale(1.0621,1)" font-family="Liberation Sans, sans-serif" font-size="35.2" fill="#000">80</text>
<text transform="translate(61.09,33.50) scale(1.0480,1)" font-family="Liberation Sans, sans-serif" font-size="35.2" fill="#000">100</text>
<text transform="translate(95.76,571.10) scale(1.0501,1)" font-family="Liberation Sans, sans-serif" font-size="35.2" fill="#000">0.002</text>
<text transform="translate(243.45,571.10) scale(1.0549,1)" font-family="Liberation Sans, sans-serif" font-size="35.2" fill="#000">0.2</text>
<text transform="translate(371.15,571.10) scale(1.0532,1)" font-family="Liberation Sans, sans-serif" font-size="35.2" fill="#000">0.4</text>
<text transform="translate(498.34,571.10) scale(1.0606,1)" font-family="Liberation Sans, sans-serif" font-size="35.2" fill="#000">0.6</text>
<text transform="translate(626.64,571.10) scale(1.0646,1)" font-family="Liberation Sans, sans-serif" font-size="35.2" fill="#000">0.8</text>
<text transform="translate(343.60,637.30) scale(1.0346,1)" font-family="Liberation Sans, sans-serif" font-size="36.2" fill="#000" class="ax">Strain</text>
<text class="ax" transform="translate(40.90,484.37) rotate(-90) scale(0.9898,1)" font-family="Liberation Sans, sans-serif" font-size="36.2">Average</text>
<text class="ax" transform="translate(40.90,342.90) rotate(-90) scale(1.0445,1)" font-family="Liberation Sans, sans-serif" font-size="36.2">Grain</text>
<text class="ax" transform="translate(40.90,237.49) rotate(-90) scale(0.9845,1)" font-family="Liberation Sans, sans-serif" font-size="36.2">size</text>
<text class="ax" transform="translate(40.90,164.16) rotate(-90) scale(1.0088,1)" font-family="Liberation Serif, serif" font-style="italic" font-size="38">d</text>
<path d="M10.60 162.0V147.5" stroke="#000" stroke-width="1.6" fill="none"/>
<text class="ax" transform="translate(40.90,139.66) rotate(-90) scale(0.7397,1)" font-family="Liberation Sans, sans-serif" font-size="36.2">(</text>
<text class="ax" transform="translate(40.90,128.54) rotate(-90) scale(1.1053,1)" font-family="Liberation Sans, sans-serif" font-size="36.2">µ</text>
<text class="ax" transform="translate(40.90,104.92) rotate(-90) scale(1.0053,1)" font-family="Liberation Sans, sans-serif" font-size="36.2">m</text>
<text class="ax" transform="translate(40.90,72.87) rotate(-90) scale(0.7814,1)" font-family="Liberation Sans, sans-serif" font-size="36.2">)</text>
</g>
<g>
<rect x="1006.00" y="19.30" width="510.40" height="510.60" fill="none" stroke="#000" stroke-width="1.5"/>
<path d="M1132.64 529.90v-10M1132.64 19.30v11M1260.56 529.90v-10M1260.56 19.30v11M1388.48 529.90v-10M1388.48 19.30v11M1515.80 529.90v-10M1515.80 19.30v11M1006.00 427.78h9.6M1516.40 427.78h-9.6M1006.00 325.66h9.6M1516.40 325.66h-9.6M1006.00 223.54h9.6M1516.40 223.54h-9.6M1006.00 121.42h9.6M1516.40 121.42h-9.6" fill="none" stroke="#000" stroke-width="1.5"/>
<polyline points="1006.00,132.40 1007.50,132.40 1009.00,132.40 1010.50,132.40 1012.00,132.40 1013.50,132.40 1015.00,132.40 1016.50,132.40 1016.70,132.40 1018.00,132.40 1019.50,132.40 1021.00,132.40 1022.50,132.40 1024.00,132.40 1025.50,132.40 1027.00,132.40 1028.50,132.40 1029.49,132.40 1030.00,132.40 1031.50,132.40 1033.00,132.40 1034.50,132.40 1036.00,132.40 1037.50,132.40 1039.00,132.40 1040.50,132.40 1042.00,132.40 1042.28,132.40 1043.50,132.40 1045.00,132.40 1046.50,132.40 1048.00,132.40 1049.50,132.40 1051.00,132.40 1052.50,132.40 1054.00,132.40 1055.07,132.40 1055.50,132.40 1057.00,132.40 1058.50,132.40 1060.00,132.40 1061.50,132.40 1063.00,132.40 1064.50,132.40 1066.00,132.40 1067.50,132.40 1067.70,132.40 1069.00,132.72 1070.30,133.52 1070.50,133.73 1072.00,137.77 1072.90,140.65 1073.50,142.31 1075.00,146.42 1076.50,150.54 1078.00,154.70 1079.50,158.94 1080.65,162.27 1081.00,163.30 1082.50,167.83 1084.00,172.52 1085.50,177.30 1087.00,182.12 1088.50,186.94 1090.00,191.69 1091.50,196.34 1093.00,200.82 1093.44,202.09 1094.50,205.14 1096.00,209.41 1097.50,213.63 1099.00,217.79 1100.50,221.85 1102.00,225.82 1103.50,229.67 1105.00,233.38 1106.23,236.31 1106.50,236.93 1108.00,240.36 1109.50,243.68 1111.00,246.89 1112.50,250.02 1114.00,253.07 1115.50,256.05 1117.00,258.98 1118.50,261.86 1119.02,262.86 1120.00,264.71 1121.50,267.48 1123.00,270.20 1124.50,272.86 1126.00,275.47 1127.50,278.05 1129.00,280.60 1130.50,283.13 1131.81,285.32 1132.00,285.64 1133.50,288.16 1135.00,290.69 1136.50,293.20 1138.00,295.69 1139.50,298.12 1141.00,300.48 1142.50,302.75 1144.00,304.91 1144.60,305.75 1145.50,306.97 1147.00,308.94 1148.50,310.85 1150.00,312.70 1151.50,314.49 1153.00,316.23 1154.50,317.92 1156.00,319.57 1157.39,321.06 1157.50,321.18 1159.00,322.76 1160.50,324.30 1162.00,325.80 1163.50,327.27 1165.00,328.69 1166.50,330.08 1168.00,331.43 1169.50,332.74 1170.18,333.32 1171.00,334.01 1172.50,335.23 1174.00,336.42 1175.50,337.57 1177.00,338.69 1178.50,339.80 1180.00,340.89 1181.50,341.97 1182.97,343.02 1183.00,343.04 1184.50,344.12 1186.00,345.19 1187.50,346.26 1189.00,347.31 1190.50,348.34 1192.00,349.35 1193.50,350.32 1195.00,351.25 1195.76,351.70 1196.50,352.13 1198.00,352.99 1199.50,353.82 1201.00,354.63 1202.50,355.42 1204.00,356.18 1205.50,356.91 1207.00,357.63 1208.50,358.32 1208.55,358.34 1210.00,358.97 1211.50,359.60 1213.00,360.19 1214.50,360.77 1216.00,361.35 1217.50,361.92 1219.00,362.50 1220.50,363.10 1221.34,363.44 1222.00,363.72 1223.50,364.38 1225.00,365.06 1226.50,365.75 1228.00,366.44 1229.50,367.12 1231.00,367.79 1232.50,368.42 1234.00,369.01 1234.13,369.06 1235.50,369.57 1237.00,370.11 1238.50,370.64 1240.00,371.15 1241.50,371.65 1243.00,372.12 1244.50,372.58 1246.00,373.02 1246.92,373.27 1247.50,373.43 1249.00,373.84 1250.50,374.25 1252.00,374.64 1253.50,375.01 1255.00,375.37 1256.50,375.69 1258.00,375.99 1259.50,376.26 1259.71,376.29 1261.00,376.49 1262.50,376.72 1264.00,376.93 1265.50,377.13 1267.00,377.32 1268.50,377.48 1270.00,377.63 1271.50,377.75 1272.50,377.82 1273.00,377.85 1274.50,377.94 1276.00,378.03 1277.50,378.10 1279.00,378.17 1280.50,378.24 1282.00,378.29 1283.50,378.33 1285.00,378.36 1285.29,378.36 1286.50,378.38 1288.00,378.40 1289.50,378.42 1291.00,378.44 1292.50,378.45 1294.00,378.46 1295.50,378.47 1297.00,378.47 1298.08,378.48 1298.50,378.48 1300.00,378.47 1301.50,378.47 1303.00,378.46 1304.50,378.45 1306.00,378.44 1307.50,378.43 1309.00,378.41 1310.50,378.40 1310.87,378.40 1312.00,378.38 1313.50,378.36 1315.00,378.34 1316.50,378.31 1318.00,378.27 1319.50,378.24 1321.00,378.20 1322.50,378.16 1323.66,378.12 1324.00,378.11 1325.50,378.07 1327.00,378.02 1328.50,377.96 1330.00,377.90 1331.50,377.84 1333.00,377.77 1334.50,377.71 1336.00,377.63 1336.45,377.61 1337.50,377.56 1339.00,377.48 1340.50,377.40 1342.00,377.31 1343.50,377.22 1345.00,377.13 1346.50,377.04 1348.00,376.94 1349.24,376.86 1349.50,376.85 1351.00,376.75 1352.50,376.65 1354.00,376.54 1355.50,376.43 1357.00,376.33 1358.50,376.22 1360.00,376.11 1361.50,376.01 1362.03,375.97 1363.00,375.90 1364.50,375.80 1366.00,375.70 1367.50,375.60 1369.00,375.49 1370.50,375.40 1372.00,375.30 1373.50,375.20 1374.82,375.12 1375.00,375.11 1376.50,375.03 1378.00,374.94 1379.50,374.86 1381.00,374.78 1382.50,374.70 1384.00,374.62 1385.50,374.55 1387.00,374.47 1387.61,374.44 1388.50,374.39 1390.00,374.32 1391.50,374.25 1393.00,374.17 1394.50,374.10 1396.00,374.03 1397.50,373.96 1399.00,373.89 1400.40,373.82 1400.50,373.81 1402.00,373.73 1403.50,373.66 1405.00,373.58 1406.50,373.50 1408.00,373.42 1409.50,373.34 1411.00,373.26 1412.50,373.18 1413.19,373.15 1414.00,373.10 1415.50,373.02 1417.00,372.94 1418.50,372.86 1420.00,372.78 1421.50,372.71 1423.00,372.63 1424.50,372.56 1425.98,372.49 1426.00,372.49 1427.50,372.42 1429.00,372.36 1430.50,372.29 1432.00,372.23 1433.50,372.17 1435.00,372.12 1436.50,372.07 1438.00,372.02 1438.77,372.00 1439.50,371.98 1441.00,371.94 1442.50,371.90 1444.00,371.86 1445.50,371.83 1447.00,371.80 1448.50,371.77 1450.00,371.75 1451.50,371.73 1451.56,371.73 1453.00,371.71 1454.50,371.69 1456.00,371.68 1457.50,371.67 1459.00,371.66 1460.50,371.65 1462.00,371.64 1463.50,371.63 1464.35,371.63 1465.00,371.63 1466.50,371.63 1468.00,371.62 1469.50,371.62 1471.00,371.62 1472.50,371.62 1474.00,371.62 1475.50,371.61 1477.00,371.61 1477.14,371.61 1478.50,371.61 1480.00,371.61 1481.50,371.61 1483.00,371.61 1484.50,371.61 1486.00,371.61 1487.50,371.61 1489.00,371.61 1489.93,371.61 1490.50,371.61 1492.00,371.61 1493.50,371.61 1495.00,371.61 1496.50,371.61 1498.00,371.61 1499.50,371.61 1501.00,371.61 1502.50,371.61 1502.72,371.61" fill="none" stroke="#56B4E9" stroke-width="3.0" stroke-linejoin="round"/>
<path d="M1012.70 132.40H1020.70M1016.70 127.90V136.90M1025.49 132.40H1033.49M1029.49 127.90V136.90M1038.28 132.40H1046.28M1042.28 127.90V136.90M1051.07 132.40H1059.07M1055.07 127.90V136.90M1063.86 132.40H1071.86M1067.86 127.90V136.90M1076.65 162.27H1084.65M1080.65 157.77V166.77M1089.44 202.09H1097.44M1093.44 197.59V206.59M1102.23 236.31H1110.23M1106.23 231.81V240.81M1115.02 262.86H1123.02M1119.02 258.36V267.36M1127.81 285.32H1135.81M1131.81 280.82V289.82M1140.60 305.75H1148.60M1144.60 301.25V310.25M1153.39 321.06H1161.39M1157.39 316.56V325.56M1166.18 333.32H1174.18M1170.18 328.82V337.82M1178.97 343.02H1186.97M1182.97 338.52V347.52M1191.76 351.70H1199.76M1195.76 347.20V356.20M1204.55 358.34H1212.55M1208.55 353.84V362.84M1217.34 363.44H1225.34M1221.34 358.94V367.94M1230.13 369.06H1238.13M1234.13 364.56V373.56M1242.92 373.27H1250.92M1246.92 368.77V377.77M1255.71 376.29H1263.71M1259.71 371.79V380.79M1268.50 377.82H1276.50M1272.50 373.32V382.32M1281.29 378.36H1289.29M1285.29 373.86V382.86M1294.08 378.48H1302.08M1298.08 373.98V382.98M1306.87 378.40H1314.87M1310.87 373.90V382.90M1319.66 378.12H1327.66M1323.66 373.62V382.62M1332.45 377.61H1340.45M1336.45 373.11V382.11M1345.24 376.86H1353.24M1349.24 372.36V381.36M1358.03 375.97H1366.03M1362.03 371.47V380.47M1370.82 375.12H1378.82M1374.82 370.62V379.62M1383.61 374.44H1391.61M1387.61 369.94V378.94M1396.40 373.82H1404.40M1400.40 369.32V378.32M1409.19 373.15H1417.19M1413.19 368.65V377.65M1421.98 372.49H1429.98M1425.98 367.99V376.99M1434.77 372.00H1442.77M1438.77 367.50V376.50M1447.56 371.73H1455.56M1451.56 367.23V376.23M1460.35 371.63H1468.35M1464.35 367.13V376.13M1473.14 371.61H1481.14M1477.14 367.11V376.11M1485.93 371.61H1493.93M1489.93 367.11V376.11M1498.72 371.61H1506.72M1502.72 367.11V376.11" fill="none" stroke="#56B4E9" stroke-width="2.6"/>
<polyline points="1006.00,132.40 1007.50,132.40 1009.00,132.40 1010.50,132.40 1012.00,132.40 1013.50,132.40 1015.00,132.40 1016.50,132.40 1016.70,132.40 1018.00,132.40 1019.50,132.40 1021.00,132.40 1022.50,132.40 1024.00,132.40 1025.50,132.40 1027.00,132.40 1028.50,132.40 1029.49,132.40 1030.00,132.40 1031.50,132.40 1033.00,132.40 1034.50,132.40 1036.00,132.40 1037.50,132.40 1039.00,132.40 1040.50,132.40 1042.00,132.40 1042.28,132.40 1043.50,132.40 1045.00,132.40 1046.50,132.40 1048.00,132.40 1049.50,132.40 1051.00,132.40 1052.50,132.40 1054.00,132.40 1055.07,132.40 1055.50,132.40 1057.00,132.40 1058.50,132.40 1060.00,132.40 1061.50,132.40 1063.00,132.40 1064.50,132.40 1066.00,132.40 1067.50,132.40 1067.60,132.40 1069.00,132.76 1070.20,133.52 1070.50,133.89 1072.00,138.41 1072.80,141.13 1073.50,143.18 1075.00,147.55 1076.50,151.93 1078.00,156.33 1079.50,160.81 1080.65,164.31 1081.00,165.39 1082.50,170.14 1084.00,175.02 1085.50,179.99 1087.00,185.00 1088.50,189.99 1090.00,194.91 1091.50,199.72 1093.00,204.35 1093.44,205.67 1094.50,208.81 1096.00,213.23 1097.50,217.59 1099.00,221.87 1100.50,226.06 1102.00,230.14 1103.50,234.09 1105.00,237.90 1106.23,240.90 1106.50,241.54 1108.00,245.03 1109.50,248.37 1111.00,251.61 1112.50,254.75 1114.00,257.83 1115.50,260.86 1117.00,263.88 1118.50,266.91 1119.02,267.96 1120.00,269.96 1121.50,273.03 1123.00,276.10 1124.50,279.15 1126.00,282.15 1127.50,285.09 1129.00,287.94 1130.50,290.69 1131.81,292.98 1132.00,293.31 1133.50,295.82 1135.00,298.27 1136.50,300.65 1138.00,302.96 1139.50,305.21 1141.00,307.39 1142.50,309.52 1144.00,311.58 1144.60,312.38 1145.50,313.58 1147.00,315.55 1148.50,317.47 1150.00,319.35 1151.50,321.17 1153.00,322.93 1154.50,324.63 1156.00,326.26 1157.39,327.70 1157.50,327.81 1159.00,329.29 1160.50,330.71 1162.00,332.07 1163.50,333.39 1165.00,334.67 1166.50,335.93 1168.00,337.16 1169.50,338.38 1170.18,338.94 1171.00,339.60 1172.50,340.82 1174.00,342.03 1175.50,343.22 1177.00,344.39 1178.50,345.52 1180.00,346.61 1181.50,347.66 1182.97,348.64 1183.00,348.66 1184.50,349.61 1186.00,350.55 1187.50,351.45 1189.00,352.33 1190.50,353.17 1192.00,353.98 1193.50,354.74 1195.00,355.45 1195.76,355.79 1196.50,356.10 1198.00,356.71 1199.50,357.28 1201.00,357.81 1202.50,358.32 1204.00,358.83 1205.50,359.33 1207.00,359.84 1208.50,360.36 1208.55,360.38 1210.00,360.90 1211.50,361.43 1213.00,361.96 1214.50,362.49 1216.00,363.02 1217.50,363.56 1219.00,364.11 1220.50,364.66 1221.34,364.98 1222.00,365.23 1223.50,365.83 1225.00,366.46 1226.50,367.09 1228.00,367.73 1229.50,368.36 1231.00,368.96 1232.50,369.52 1234.00,370.04 1234.13,370.08 1235.50,370.52 1237.00,370.98 1238.50,371.42 1240.00,371.84 1241.50,372.25 1243.00,372.63 1244.50,373.00 1246.00,373.34 1246.92,373.54 1247.50,373.66 1249.00,373.97 1250.50,374.28 1252.00,374.58 1253.50,374.85 1255.00,375.11 1256.50,375.35 1258.00,375.55 1259.50,375.73 1259.71,375.75 1261.00,375.87 1262.50,376.01 1264.00,376.14 1265.50,376.26 1267.00,376.37 1268.50,376.46 1270.00,376.54 1271.50,376.60 1272.50,376.63 1273.00,376.65 1274.50,376.69 1276.00,376.72 1277.50,376.75 1279.00,376.78 1280.50,376.81 1282.00,376.83 1283.50,376.84 1285.00,376.85 1285.29,376.85 1286.50,376.85 1288.00,376.85 1289.50,376.86 1291.00,376.86 1292.50,376.86 1294.00,376.86 1295.50,376.86 1297.00,376.86 1298.08,376.86 1298.50,376.86 1300.00,376.86 1301.50,376.86 1303.00,376.85 1304.50,376.84 1306.00,376.83 1307.50,376.82 1309.00,376.81 1310.50,376.80 1310.87,376.79 1312.00,376.78 1313.50,376.76 1315.00,376.74 1316.50,376.71 1318.00,376.68 1319.50,376.65 1321.00,376.61 1322.50,376.58 1323.66,376.54 1324.00,376.54 1325.50,376.49 1327.00,376.44 1328.50,376.38 1330.00,376.31 1331.50,376.24 1333.00,376.17 1334.50,376.10 1336.00,376.02 1336.45,376.00 1337.50,375.94 1339.00,375.85 1340.50,375.76 1342.00,375.66 1343.50,375.56 1345.00,375.46 1346.50,375.35 1348.00,375.24 1349.24,375.16 1349.50,375.14 1351.00,375.03 1352.50,374.92 1354.00,374.80 1355.50,374.69 1357.00,374.57 1358.50,374.46 1360.00,374.35 1361.50,374.24 1362.03,374.20 1363.00,374.13 1364.50,374.02 1366.00,373.92 1367.50,373.81 1369.00,373.71 1370.50,373.61 1372.00,373.51 1373.50,373.42 1374.82,373.34 1375.00,373.33 1376.50,373.24 1378.00,373.15 1379.50,373.07 1381.00,372.99 1382.50,372.91 1384.00,372.83 1385.50,372.75 1387.00,372.67 1387.61,372.64 1388.50,372.59 1390.00,372.51 1391.50,372.43 1393.00,372.35 1394.50,372.28 1396.00,372.20 1397.50,372.12 1399.00,372.04 1400.40,371.97 1400.50,371.96 1402.00,371.88 1403.50,371.79 1405.00,371.71 1406.50,371.62 1408.00,371.54 1409.50,371.46 1411.00,371.37 1412.50,371.29 1413.19,371.25 1414.00,371.21 1415.50,371.13 1417.00,371.05 1418.50,370.97 1420.00,370.89 1421.50,370.81 1423.00,370.74 1424.50,370.67 1425.98,370.60 1426.00,370.60 1427.50,370.53 1429.00,370.47 1430.50,370.41 1432.00,370.35 1433.50,370.29 1435.00,370.24 1436.50,370.19 1438.00,370.14 1438.77,370.12 1439.50,370.10 1441.00,370.06 1442.50,370.03 1444.00,369.99 1445.50,369.96 1447.00,369.93 1448.50,369.91 1450.00,369.88 1451.50,369.87 1451.56,369.87 1453.00,369.85 1454.50,369.84 1456.00,369.83 1457.50,369.82 1459.00,369.81 1460.50,369.80 1462.00,369.79 1463.50,369.78 1464.35,369.78 1465.00,369.78 1466.50,369.77 1468.00,369.77 1469.50,369.76 1471.00,369.76 1472.50,369.75 1474.00,369.75 1475.50,369.74 1477.00,369.74 1477.14,369.74 1478.50,369.73 1480.00,369.72 1481.50,369.72 1483.00,369.71 1484.50,369.70 1486.00,369.69 1487.50,369.68 1489.00,369.67 1489.93,369.67 1490.50,369.66 1492.00,369.65 1493.50,369.64 1495.00,369.63 1496.50,369.62 1498.00,369.61 1499.50,369.60 1501.00,369.59 1502.50,369.57 1502.72,369.57" fill="none" stroke="#E51E10" stroke-width="3.0" stroke-linejoin="round"/>
<path d="M1012.70 127.90L1020.70 136.90M1012.70 136.90L1020.70 127.90M1025.49 127.90L1033.49 136.90M1025.49 136.90L1033.49 127.90M1038.28 127.90L1046.28 136.90M1038.28 136.90L1046.28 127.90M1051.07 127.90L1059.07 136.90M1051.07 136.90L1059.07 127.90M1063.86 127.91L1071.86 136.91M1063.86 136.91L1071.86 127.91M1076.65 159.81L1084.65 168.81M1076.65 168.81L1084.65 159.81M1089.44 201.17L1097.44 210.17M1089.44 210.17L1097.44 201.17M1102.23 236.40L1110.23 245.40M1102.23 245.40L1110.23 236.40M1115.02 263.46L1123.02 272.46M1115.02 272.46L1123.02 263.46M1127.81 288.48L1135.81 297.48M1127.81 297.48L1135.81 288.48M1140.60 307.88L1148.60 316.88M1140.60 316.88L1148.60 307.88M1153.39 323.20L1161.39 332.20M1153.39 332.20L1161.39 323.20M1166.18 334.44L1174.18 343.44M1166.18 343.44L1174.18 334.44M1178.97 344.14L1186.97 353.14M1178.97 353.14L1186.97 344.14M1191.76 351.29L1199.76 360.29M1191.76 360.29L1199.76 351.29M1204.55 355.88L1212.55 364.88M1204.55 364.88L1212.55 355.88M1217.34 360.48L1225.34 369.48M1217.34 369.48L1225.34 360.48M1230.13 365.58L1238.13 374.58M1230.13 374.58L1238.13 365.58M1242.92 369.04L1250.92 378.04M1242.92 378.04L1250.92 369.04M1255.71 371.25L1263.71 380.25M1255.71 380.25L1263.71 371.25M1268.50 372.13L1276.50 381.13M1268.50 381.13L1276.50 372.13M1281.29 372.35L1289.29 381.35M1281.29 381.35L1289.29 372.35M1294.08 372.36L1302.08 381.36M1294.08 381.36L1302.08 372.36M1306.87 372.29L1314.87 381.29M1306.87 381.29L1314.87 372.29M1319.66 372.04L1327.66 381.04M1319.66 381.04L1327.66 372.04M1332.45 371.50L1340.45 380.50M1332.45 380.50L1340.45 371.50M1345.24 370.66L1353.24 379.66M1345.24 379.66L1353.24 370.66M1358.03 369.70L1366.03 378.70M1358.03 378.70L1366.03 369.70M1370.82 368.84L1378.82 377.84M1370.82 377.84L1378.82 368.84M1383.61 368.14L1391.61 377.14M1383.61 377.14L1391.61 368.14M1396.40 367.47L1404.40 376.47M1396.40 376.47L1404.40 367.47M1409.19 366.75L1417.19 375.75M1409.19 375.75L1417.19 366.75M1421.98 366.10L1429.98 375.10M1421.98 375.10L1429.98 366.10M1434.77 365.62L1442.77 374.62M1434.77 374.62L1442.77 365.62M1447.56 365.37L1455.56 374.37M1447.56 374.37L1455.56 365.37M1460.35 365.28L1468.35 374.28M1460.35 374.28L1468.35 365.28M1473.14 365.24L1481.14 374.24M1473.14 374.24L1481.14 365.24M1485.93 365.17L1493.93 374.17M1485.93 374.17L1493.93 365.17M1498.72 365.07L1506.72 374.07M1498.72 374.07L1506.72 365.07" fill="none" stroke="#E51E10" stroke-width="2.6"/>
<polyline points="1006.00,132.40 1007.50,132.40 1009.00,132.40 1010.50,132.40 1012.00,132.40 1013.50,132.40 1015.00,132.40 1016.50,132.40 1016.70,132.40 1018.00,132.40 1019.50,132.40 1021.00,132.40 1022.50,132.40 1024.00,132.40 1025.50,132.40 1027.00,132.40 1028.50,132.40 1029.49,132.40 1030.00,132.40 1031.50,132.40 1033.00,132.40 1034.50,132.40 1036.00,132.40 1037.50,132.40 1039.00,132.40 1040.50,132.40 1042.00,132.40 1042.28,132.40 1043.50,132.40 1045.00,132.40 1046.50,132.40 1048.00,132.40 1049.50,132.40 1051.00,132.40 1052.50,132.40 1054.00,132.40 1055.07,132.40 1055.50,132.40 1057.00,132.40 1058.50,132.40 1060.00,132.40 1061.50,132.40 1063.00,132.40 1064.50,132.40 1066.00,132.40 1067.40,132.40 1067.50,132.40 1069.00,132.86 1070.00,133.52 1070.50,134.34 1072.00,139.82 1072.60,142.06 1073.50,145.00 1075.00,149.86 1076.50,154.72 1078.00,159.60 1079.50,164.54 1080.65,168.40 1081.00,169.58 1082.50,174.79 1084.00,180.15 1085.50,185.58 1087.00,191.05 1088.50,196.47 1090.00,201.80 1091.50,206.97 1093.00,211.92 1093.44,213.33 1094.50,216.66 1096.00,221.33 1097.50,225.90 1099.00,230.38 1100.50,234.75 1102.00,238.98 1103.50,243.07 1105.00,247.00 1106.23,250.09 1106.50,250.75 1108.00,254.33 1109.50,257.75 1111.00,261.04 1112.50,264.24 1114.00,267.36 1115.50,270.44 1117.00,273.51 1118.50,276.59 1119.02,277.66 1120.00,279.70 1121.50,282.85 1123.00,286.01 1124.50,289.14 1126.00,292.22 1127.50,295.23 1129.00,298.13 1130.50,300.90 1131.81,303.19 1132.00,303.52 1133.50,306.01 1135.00,308.41 1136.50,310.73 1138.00,312.98 1139.50,315.15 1141.00,317.26 1142.50,319.31 1144.00,321.30 1144.60,322.09 1145.50,323.25 1147.00,325.15 1148.50,327.02 1150.00,328.83 1151.50,330.60 1153.00,332.30 1154.50,333.94 1156.00,335.51 1157.39,336.89 1157.50,337.00 1159.00,338.43 1160.50,339.80 1162.00,341.13 1163.50,342.41 1165.00,343.65 1166.50,344.84 1168.00,346.00 1169.50,347.12 1170.18,347.62 1171.00,348.21 1172.50,349.27 1174.00,350.31 1175.50,351.32 1177.00,352.30 1178.50,353.24 1180.00,354.14 1181.50,355.00 1182.97,355.79 1183.00,355.80 1184.50,356.57 1186.00,357.30 1187.50,358.01 1189.00,358.70 1190.50,359.35 1192.00,359.97 1193.50,360.56 1195.00,361.13 1195.76,361.40 1196.50,361.66 1198.00,362.17 1199.50,362.64 1201.00,363.10 1202.50,363.54 1204.00,363.97 1205.50,364.39 1207.00,364.80 1208.50,365.22 1208.55,365.23 1210.00,365.63 1211.50,366.05 1213.00,366.46 1214.50,366.87 1216.00,367.27 1217.50,367.65 1219.00,368.01 1220.50,368.35 1221.34,368.53 1222.00,368.67 1223.50,368.99 1225.00,369.30 1226.50,369.60 1228.00,369.89 1229.50,370.16 1231.00,370.40 1232.50,370.62 1234.00,370.80 1234.13,370.82 1235.50,370.97 1237.00,371.13 1238.50,371.29 1240.00,371.44 1241.50,371.57 1243.00,371.67 1244.50,371.75 1246.00,371.80 1246.92,371.81 1247.50,371.80 1249.00,371.80 1250.50,371.78 1252.00,371.76 1253.50,371.73 1255.00,371.69 1256.50,371.65 1258.00,371.61 1259.50,371.56 1259.71,371.55 1261.00,371.49 1262.50,371.40 1264.00,371.27 1265.50,371.13 1267.00,370.97 1268.50,370.79 1270.00,370.62 1271.50,370.44 1272.50,370.32 1273.00,370.26 1274.50,370.08 1276.00,369.88 1277.50,369.67 1279.00,369.46 1280.50,369.24 1282.00,369.01 1283.50,368.79 1285.00,368.56 1285.29,368.52 1286.50,368.34 1288.00,368.11 1289.50,367.88 1291.00,367.64 1292.50,367.40 1294.00,367.16 1295.50,366.93 1297.00,366.69 1298.08,366.52 1298.50,366.46 1300.00,366.23 1301.50,365.99 1303.00,365.76 1304.50,365.53 1306.00,365.30 1307.50,365.07 1309.00,364.84 1310.50,364.62 1310.87,364.56 1312.00,364.39 1313.50,364.17 1315.00,363.95 1316.50,363.74 1318.00,363.52 1319.50,363.31 1321.00,363.10 1322.50,362.90 1323.66,362.74 1324.00,362.70 1325.50,362.50 1327.00,362.31 1328.50,362.12 1330.00,361.93 1331.50,361.75 1333.00,361.58 1334.50,361.41 1336.00,361.24 1336.45,361.19 1337.50,361.09 1339.00,360.93 1340.50,360.79 1342.00,360.64 1343.50,360.50 1345.00,360.37 1346.50,360.24 1348.00,360.11 1349.24,360.01 1349.50,359.99 1351.00,359.88 1352.50,359.77 1354.00,359.66 1355.50,359.56 1357.00,359.45 1358.50,359.35 1360.00,359.25 1361.50,359.16 1362.03,359.12 1363.00,359.06 1364.50,358.96 1366.00,358.86 1367.50,358.77 1369.00,358.68 1370.50,358.58 1372.00,358.49 1373.50,358.39 1374.82,358.31 1375.00,358.29 1376.50,358.19 1378.00,358.09 1379.50,357.99 1381.00,357.88 1382.50,357.78 1384.00,357.67 1385.50,357.56 1387.00,357.46 1387.61,357.41 1388.50,357.35 1390.00,357.24 1391.50,357.12 1393.00,357.01 1394.50,356.89 1396.00,356.78 1397.50,356.67 1399.00,356.56 1400.40,356.46 1400.50,356.45 1402.00,356.34 1403.50,356.23 1405.00,356.13 1406.50,356.02 1408.00,355.92 1409.50,355.82 1411.00,355.72 1412.50,355.63 1413.19,355.59 1414.00,355.55 1415.50,355.46 1417.00,355.38 1418.50,355.30 1420.00,355.22 1421.50,355.15 1423.00,355.08 1424.50,355.02 1425.98,354.97 1426.00,354.97 1427.50,354.92 1429.00,354.87 1430.50,354.82 1432.00,354.77 1433.50,354.73 1435.00,354.69 1436.50,354.67 1438.00,354.65 1438.77,354.65 1439.50,354.65 1441.00,354.65 1442.50,354.65 1444.00,354.66 1445.50,354.66 1447.00,354.66 1448.50,354.66 1450.00,354.66 1451.50,354.67 1451.56,354.67 1453.00,354.68 1454.50,354.70 1456.00,354.74 1457.50,354.78 1459.00,354.84 1460.50,354.89 1462.00,354.95 1463.50,355.00 1464.35,355.04 1465.00,355.06 1466.50,355.12 1468.00,355.18 1469.50,355.25 1471.00,355.33 1472.50,355.40 1474.00,355.47 1475.50,355.54 1477.00,355.60 1477.14,355.61 1478.50,355.66 1480.00,355.73 1481.50,355.79 1483.00,355.85 1484.50,355.90 1486.00,355.96 1487.50,356.01 1489.00,356.05 1489.93,356.07 1490.50,356.09 1492.00,356.12 1493.50,356.15 1495.00,356.18 1496.50,356.21 1498.00,356.24 1499.50,356.26 1501.00,356.28 1502.50,356.29 1502.72,356.30" fill="none" stroke="#000000" stroke-width="3.0" stroke-linejoin="round"/>
<path d="M1012.70 132.40H1020.70M1016.70 127.90V136.90M1012.70 127.90L1020.70 136.90M1012.70 136.90L1020.70 127.90M1025.49 132.40H1033.49M1029.49 127.90V136.90M1025.49 127.90L1033.49 136.90M1025.49 136.90L1033.49 127.90M1038.28 132.40H1046.28M1042.28 127.90V136.90M1038.28 127.90L1046.28 136.90M1038.28 136.90L1046.28 127.90M1051.07 132.40H1059.07M1055.07 127.90V136.90M1051.07 127.90L1059.07 136.90M1051.07 136.90L1059.07 127.90M1063.86 132.44H1071.86M1067.86 127.94V136.94M1063.86 127.94L1071.86 136.94M1063.86 136.94L1071.86 127.94M1076.65 168.40H1084.65M1080.65 163.90V172.90M1076.65 163.90L1084.65 172.90M1076.65 172.90L1084.65 163.90M1089.44 213.33H1097.44M1093.44 208.83V217.83M1089.44 208.83L1097.44 217.83M1089.44 217.83L1097.44 208.83M1102.23 250.09H1110.23M1106.23 245.59V254.59M1102.23 245.59L1110.23 254.59M1102.23 254.59L1110.23 245.59M1115.02 277.66H1123.02M1119.02 273.16V282.16M1115.02 273.16L1123.02 282.16M1115.02 282.16L1123.02 273.16M1127.81 303.19H1135.81M1131.81 298.69V307.69M1127.81 298.69L1135.81 307.69M1127.81 307.69L1135.81 298.69M1140.60 322.09H1148.60M1144.60 317.59V326.59M1140.60 317.59L1148.60 326.59M1140.60 326.59L1148.60 317.59M1153.39 336.89H1161.39M1157.39 332.39V341.39M1153.39 332.39L1161.39 341.39M1153.39 341.39L1161.39 332.39M1166.18 347.62H1174.18M1170.18 343.12V352.12M1166.18 343.12L1174.18 352.12M1166.18 352.12L1174.18 343.12M1178.97 355.79H1186.97M1182.97 351.29V360.29M1178.97 351.29L1186.97 360.29M1178.97 360.29L1186.97 351.29M1191.76 361.40H1199.76M1195.76 356.90V365.90M1191.76 356.90L1199.76 365.90M1191.76 365.90L1199.76 356.90M1204.55 365.23H1212.55M1208.55 360.73V369.73M1204.55 360.73L1212.55 369.73M1204.55 369.73L1212.55 360.73M1217.34 368.53H1225.34M1221.34 364.03V373.03M1217.34 364.03L1225.34 373.03M1217.34 373.03L1225.34 364.03M1230.13 370.82H1238.13M1234.13 366.32V375.32M1230.13 366.32L1238.13 375.32M1230.13 375.32L1238.13 366.32M1242.92 371.81H1250.92M1246.92 367.31V376.31M1242.92 367.31L1250.92 376.31M1242.92 376.31L1250.92 367.31M1255.71 371.55H1263.71M1259.71 367.05V376.05M1255.71 367.05L1263.71 376.05M1255.71 376.05L1263.71 367.05M1268.50 370.32H1276.50M1272.50 365.82V374.82M1268.50 365.82L1276.50 374.82M1268.50 374.82L1276.50 365.82M1281.29 368.52H1289.29M1285.29 364.02V373.02M1281.29 364.02L1289.29 373.02M1281.29 373.02L1289.29 364.02M1294.08 366.52H1302.08M1298.08 362.02V371.02M1294.08 362.02L1302.08 371.02M1294.08 371.02L1302.08 362.02M1306.87 364.56H1314.87M1310.87 360.06V369.06M1306.87 360.06L1314.87 369.06M1306.87 369.06L1314.87 360.06M1319.66 362.74H1327.66M1323.66 358.24V367.24M1319.66 358.24L1327.66 367.24M1319.66 367.24L1327.66 358.24M1332.45 361.19H1340.45M1336.45 356.69V365.69M1332.45 356.69L1340.45 365.69M1332.45 365.69L1340.45 356.69M1345.24 360.01H1353.24M1349.24 355.51V364.51M1345.24 355.51L1353.24 364.51M1345.24 364.51L1353.24 355.51M1358.03 359.12H1366.03M1362.03 354.62V363.62M1358.03 354.62L1366.03 363.62M1358.03 363.62L1366.03 354.62M1370.82 358.31H1378.82M1374.82 353.81V362.81M1370.82 353.81L1378.82 362.81M1370.82 362.81L1378.82 353.81M1383.61 357.41H1391.61M1387.61 352.91V361.91M1383.61 352.91L1391.61 361.91M1383.61 361.91L1391.61 352.91M1396.40 356.46H1404.40M1400.40 351.96V360.96M1396.40 351.96L1404.40 360.96M1396.40 360.96L1404.40 351.96M1409.19 355.59H1417.19M1413.19 351.09V360.09M1409.19 351.09L1417.19 360.09M1409.19 360.09L1417.19 351.09M1421.98 354.97H1429.98M1425.98 350.47V359.47M1421.98 350.47L1429.98 359.47M1421.98 359.47L1429.98 350.47M1434.77 354.65H1442.77M1438.77 350.15V359.15M1434.77 350.15L1442.77 359.15M1434.77 359.15L1442.77 350.15M1447.56 354.67H1455.56M1451.56 350.17V359.17M1447.56 350.17L1455.56 359.17M1447.56 359.17L1455.56 350.17M1460.35 355.04H1468.35M1464.35 350.54V359.54M1460.35 350.54L1468.35 359.54M1460.35 359.54L1468.35 350.54M1473.14 355.61H1481.14M1477.14 351.11V360.11M1473.14 351.11L1481.14 360.11M1473.14 360.11L1481.14 351.11M1485.93 356.07H1493.93M1489.93 351.57V360.57M1485.93 351.57L1493.93 360.57M1485.93 360.57L1493.93 351.57M1498.72 356.30H1506.72M1502.72 351.80V360.80M1498.72 351.80L1506.72 360.80M1498.72 360.80L1506.72 351.80" fill="none" stroke="#000000" stroke-width="2.6"/>
<polyline points="1006.00,132.40 1007.50,132.40 1009.00,132.40 1010.50,132.40 1012.00,132.40 1013.50,132.40 1015.00,132.40 1016.50,132.40 1016.70,132.40 1018.00,132.40 1019.50,132.40 1021.00,132.40 1022.50,132.40 1024.00,132.40 1025.50,132.40 1027.00,132.40 1028.50,132.40 1029.49,132.40 1030.00,132.40 1031.50,132.40 1033.00,132.40 1034.50,132.40 1036.00,132.40 1037.50,132.40 1039.00,132.40 1040.50,132.40 1042.00,132.40 1042.28,132.40 1043.50,132.40 1045.00,132.40 1046.50,132.40 1048.00,132.40 1049.50,132.40 1051.00,132.40 1052.50,132.40 1054.00,132.40 1055.07,132.40 1055.50,132.40 1057.00,132.40 1058.50,132.40 1060.00,132.40 1061.50,132.40 1063.00,132.40 1064.50,132.40 1066.00,132.40 1067.30,132.40 1067.50,132.41 1069.00,132.91 1069.90,133.52 1070.50,134.66 1072.00,140.68 1072.50,142.64 1073.50,146.12 1075.00,151.30 1076.50,156.47 1078.00,161.66 1079.50,166.89 1080.65,170.95 1081.00,172.20 1082.50,177.64 1084.00,183.20 1085.50,188.83 1087.00,194.47 1088.50,200.07 1090.00,205.59 1091.50,210.98 1093.00,216.18 1093.44,217.67 1094.50,221.21 1096.00,226.16 1097.50,231.04 1099.00,235.83 1100.50,240.52 1102.00,245.09 1103.50,249.53 1105.00,253.83 1106.23,257.24 1106.50,257.97 1108.00,261.99 1109.50,265.89 1111.00,269.70 1112.50,273.40 1114.00,277.00 1115.50,280.51 1117.00,283.93 1118.50,287.25 1119.02,288.39 1120.00,290.51 1121.50,293.72 1123.00,296.88 1124.50,299.96 1126.00,302.96 1127.50,305.85 1129.00,308.62 1130.50,311.24 1131.81,313.41 1132.00,313.71 1133.50,316.03 1135.00,318.23 1136.50,320.33 1138.00,322.34 1139.50,324.30 1141.00,326.22 1142.50,328.11 1144.00,330.00 1144.60,330.77 1145.50,331.92 1147.00,333.86 1148.50,335.80 1150.00,337.72 1151.50,339.60 1153.00,341.41 1154.50,343.13 1156.00,344.73 1157.39,346.08 1157.50,346.19 1159.00,347.54 1160.50,348.81 1162.00,350.02 1163.50,351.18 1165.00,352.28 1166.50,353.34 1168.00,354.36 1169.50,355.35 1170.18,355.79 1171.00,356.31 1172.50,357.27 1174.00,358.21 1175.50,359.13 1177.00,360.01 1178.50,360.84 1180.00,361.61 1181.50,362.32 1182.97,362.93 1183.00,362.95 1184.50,363.53 1186.00,364.09 1187.50,364.64 1189.00,365.15 1190.50,365.61 1192.00,366.02 1193.50,366.37 1195.00,366.65 1195.76,366.76 1196.50,366.86 1198.00,367.04 1199.50,367.20 1201.00,367.35 1202.50,367.48 1204.00,367.60 1205.50,367.69 1207.00,367.77 1208.50,367.83 1208.55,367.83 1210.00,367.88 1211.50,367.92 1213.00,367.96 1214.50,368.00 1216.00,368.03 1217.50,368.06 1219.00,368.08 1220.50,368.09 1221.34,368.09 1222.00,368.08 1223.50,368.05 1225.00,367.99 1226.50,367.91 1228.00,367.80 1229.50,367.68 1231.00,367.55 1232.50,367.42 1234.00,367.29 1234.13,367.27 1235.50,367.14 1237.00,366.97 1238.50,366.78 1240.00,366.57 1241.50,366.35 1243.00,366.12 1244.50,365.88 1246.00,365.63 1246.92,365.49 1247.50,365.39 1249.00,365.14 1250.50,364.87 1252.00,364.59 1253.50,364.30 1255.00,364.01 1256.50,363.71 1258.00,363.42 1259.50,363.13 1259.71,363.09 1261.00,362.85 1262.50,362.56 1264.00,362.28 1265.50,361.99 1267.00,361.70 1268.50,361.42 1270.00,361.13 1271.50,360.85 1272.50,360.67 1273.00,360.58 1274.50,360.31 1276.00,360.04 1277.50,359.78 1279.00,359.51 1280.50,359.25 1282.00,358.99 1283.50,358.72 1285.00,358.45 1285.29,358.40 1286.50,358.18 1288.00,357.91 1289.50,357.63 1291.00,357.36 1292.50,357.08 1294.00,356.80 1295.50,356.51 1297.00,356.23 1298.08,356.02 1298.50,355.94 1300.00,355.65 1301.50,355.35 1303.00,355.04 1304.50,354.74 1306.00,354.44 1307.50,354.13 1309.00,353.83 1310.50,353.53 1310.87,353.46 1312.00,353.24 1313.50,352.94 1315.00,352.64 1316.50,352.35 1318.00,352.06 1319.50,351.77 1321.00,351.48 1322.50,351.21 1323.66,351.00 1324.00,350.93 1325.50,350.67 1327.00,350.40 1328.50,350.14 1330.00,349.89 1331.50,349.64 1333.00,349.39 1334.50,349.15 1336.00,348.92 1336.45,348.85 1337.50,348.69 1339.00,348.46 1340.50,348.25 1342.00,348.03 1343.50,347.82 1345.00,347.61 1346.50,347.41 1348.00,347.21 1349.24,347.05 1349.50,347.02 1351.00,346.83 1352.50,346.65 1354.00,346.47 1355.50,346.29 1357.00,346.11 1358.50,345.94 1360.00,345.77 1361.50,345.60 1362.03,345.54 1363.00,345.43 1364.50,345.27 1366.00,345.11 1367.50,344.95 1369.00,344.79 1370.50,344.63 1372.00,344.47 1373.50,344.32 1374.82,344.19 1375.00,344.17 1376.50,344.01 1378.00,343.86 1379.50,343.71 1381.00,343.56 1382.50,343.41 1384.00,343.26 1385.50,343.12 1387.00,342.98 1387.61,342.92 1388.50,342.84 1390.00,342.71 1391.50,342.57 1393.00,342.44 1394.50,342.31 1396.00,342.19 1397.50,342.07 1399.00,341.96 1400.40,341.87 1400.50,341.87 1402.00,341.77 1403.50,341.68 1405.00,341.59 1406.50,341.51 1408.00,341.43 1409.50,341.36 1411.00,341.30 1412.50,341.25 1413.19,341.23 1414.00,341.21 1415.50,341.18 1417.00,341.14 1418.50,341.11 1420.00,341.08 1421.50,341.06 1423.00,341.04 1424.50,341.03 1425.98,341.03 1426.00,341.03 1427.50,341.03 1429.00,341.04 1430.50,341.05 1432.00,341.06 1433.50,341.08 1435.00,341.10 1436.50,341.12 1438.00,341.14 1438.77,341.15 1439.50,341.17 1441.00,341.21 1442.50,341.26 1444.00,341.32 1445.50,341.39 1447.00,341.46 1448.50,341.54 1450.00,341.62 1451.50,341.71 1451.56,341.71 1453.00,341.80 1454.50,341.90 1456.00,342.01 1457.50,342.13 1459.00,342.26 1460.50,342.39 1462.00,342.52 1463.50,342.65 1464.35,342.72 1465.00,342.77 1466.50,342.90 1468.00,343.04 1469.50,343.17 1471.00,343.31 1472.50,343.45 1474.00,343.58 1475.50,343.72 1477.00,343.85 1477.14,343.87 1478.50,343.99 1480.00,344.12 1481.50,344.24 1483.00,344.37 1484.50,344.50 1486.00,344.63 1487.50,344.76 1489.00,344.89 1489.93,344.97 1490.50,345.02 1492.00,345.15 1493.50,345.28 1495.00,345.41 1496.50,345.54 1498.00,345.67 1499.50,345.80 1501.00,345.93 1502.50,346.06 1502.72,346.08" fill="none" stroke="#009E73" stroke-width="3.0" stroke-linejoin="round"/>
<path d="M1012.60 127.70H1020.80V137.10H1012.60ZM1025.39 127.70H1033.59V137.10H1025.39ZM1038.18 127.70H1046.38V137.10H1038.18ZM1050.97 127.70H1059.17V137.10H1050.97ZM1063.76 127.76H1071.96V137.16H1063.76ZM1076.55 166.25H1084.75V175.65H1076.55ZM1089.34 212.97H1097.54V222.37H1089.34ZM1102.13 252.54H1110.33V261.94H1102.13ZM1114.92 283.69H1123.12V293.09H1114.92ZM1127.71 308.71H1135.91V318.11H1127.71ZM1140.50 326.07H1148.70V335.47H1140.50ZM1153.29 341.38H1161.49V350.78H1153.29ZM1166.08 351.09H1174.28V360.49H1166.08ZM1178.87 358.23H1187.07V367.63H1178.87ZM1191.66 362.06H1199.86V371.46H1191.66ZM1204.45 363.13H1212.65V372.53H1204.45ZM1217.24 363.39H1225.44V372.79H1217.24ZM1230.03 362.57H1238.23V371.97H1230.03ZM1242.82 360.79H1251.02V370.19H1242.82ZM1255.61 358.39H1263.81V367.79H1255.61ZM1268.40 355.97H1276.60V365.37H1268.40ZM1281.19 353.70H1289.39V363.10H1281.19ZM1293.98 351.32H1302.18V360.72H1293.98ZM1306.77 348.76H1314.97V358.16H1306.77ZM1319.56 346.30H1327.76V355.70H1319.56ZM1332.35 344.15H1340.55V353.55H1332.35ZM1345.14 342.35H1353.34V351.75H1345.14ZM1357.93 340.84H1366.13V350.24H1357.93ZM1370.72 339.49H1378.92V348.89H1370.72ZM1383.51 338.22H1391.71V347.62H1383.51ZM1396.30 337.17H1404.50V346.57H1396.30ZM1409.09 336.53H1417.29V345.93H1409.09ZM1421.88 336.33H1430.08V345.73H1421.88ZM1434.67 336.45H1442.87V345.85H1434.67ZM1447.46 337.01H1455.66V346.41H1447.46ZM1460.25 338.02H1468.45V347.42H1460.25ZM1473.04 339.17H1481.24V348.57H1473.04ZM1485.83 340.27H1494.03V349.67H1485.83ZM1498.62 341.38H1506.82V350.78H1498.62Z" fill="none" stroke="#009E73" stroke-width="2.2"/>
<text transform="translate(970.91,544.10) scale(1.0103,1)" font-family="Liberation Sans, sans-serif" font-size="35.2" fill="#000">0</text>
<text transform="translate(948.91,441.98) scale(1.0692,1)" font-family="Liberation Sans, sans-serif" font-size="35.2" fill="#000">20</text>
<text transform="translate(949.96,339.86) scale(1.0414,1)" font-family="Liberation Sans, sans-serif" font-size="35.2" fill="#000">40</text>
<text transform="translate(948.89,237.74) scale(1.0697,1)" font-family="Liberation Sans, sans-serif" font-size="35.2" fill="#000">60</text>
<text transform="translate(949.18,135.62) scale(1.0621,1)" font-family="Liberation Sans, sans-serif" font-size="35.2" fill="#000">80</text>
<text transform="translate(929.19,33.50) scale(1.0480,1)" font-family="Liberation Sans, sans-serif" font-size="35.2" fill="#000">100</text>
<text transform="translate(963.86,571.10) scale(1.0501,1)" font-family="Liberation Sans, sans-serif" font-size="35.2" fill="#000">0.002</text>
<text transform="translate(1111.55,571.10) scale(1.0549,1)" font-family="Liberation Sans, sans-serif" font-size="35.2" fill="#000">0.2</text>
<text transform="translate(1239.25,571.10) scale(1.0532,1)" font-family="Liberation Sans, sans-serif" font-size="35.2" fill="#000">0.4</text>
<text transform="translate(1366.44,571.10) scale(1.0606,1)" font-family="Liberation Sans, sans-serif" font-size="35.2" fill="#000">0.6</text>
<text transform="translate(1494.74,571.10) scale(1.0646,1)" font-family="Liberation Sans, sans-serif" font-size="35.2" fill="#000">0.8</text>
<text transform="translate(1211.70,637.30) scale(1.0346,1)" font-family="Liberation Sans, sans-serif" font-size="36.2" fill="#000" class="ax">Strain</text>
<text class="ax" transform="translate(909.00,484.37) rotate(-90) scale(0.9898,1)" font-family="Liberation Sans, sans-serif" font-size="36.2">Average</text>
<text class="ax" transform="translate(909.00,342.90) rotate(-90) scale(1.0445,1)" font-family="Liberation Sans, sans-serif" font-size="36.2">Grain</text>
<text class="ax" transform="translate(909.00,237.49) rotate(-90) scale(0.9845,1)" font-family="Liberation Sans, sans-serif" font-size="36.2">size</text>
<text class="ax" transform="translate(909.00,164.16) rotate(-90) scale(1.0088,1)" font-family="Liberation Serif, serif" font-style="italic" font-size="38">d</text>
<path d="M878.70 162.0V147.5" stroke="#000" stroke-width="1.6" fill="none"/>
<text class="ax" transform="translate(909.00,139.66) rotate(-90) scale(0.7397,1)" font-family="Liberation Sans, sans-serif" font-size="36.2">(</text>
<text class="ax" transform="translate(909.00,128.54) rotate(-90) scale(1.1053,1)" font-family="Liberation Sans, sans-serif" font-size="36.2">µ</text>
<text class="ax" transform="translate(909.00,104.92) rotate(-90) scale(1.0053,1)" font-family="Liberation Sans, sans-serif" font-size="36.2">m</text>
<text class="ax" transform="translate(909.00,72.87) rotate(-90) scale(0.7814,1)" font-family="Liberation Sans, sans-serif" font-size="36.2">)</text>
</g>
<path d="M547.80 54.10H619.70" stroke="#56B4E9" stroke-width="3.0" fill="none"/>
<path d="M579.00 54.10H587.00M583.00 49.60V58.60" stroke="#56B4E9" stroke-width="2.6" fill="none"/>
<path d="M547.80 102.70H619.70" stroke="#E51E10" stroke-width="3.0" fill="none"/>
<path d="M579.00 98.20L587.00 107.20M579.00 107.20L587.00 98.20" stroke="#E51E10" stroke-width="2.6" fill="none"/>
<path d="M547.80 150.60H619.70" stroke="#000000" stroke-width="3.0" fill="none"/>
<path d="M579.00 150.60H587.00M583.00 146.10V155.10M579.00 146.10L587.00 155.10M579.00 155.10L587.00 146.10" stroke="#000000" stroke-width="2.6" fill="none"/>
<path d="M547.80 199.60H619.70" stroke="#009E73" stroke-width="3.0" fill="none"/>
<path d="M578.90 194.90H587.10V204.30H578.90Z" stroke="#009E73" stroke-width="2.2" fill="none"/>
<path d="M1415.90 54.10H1487.80" stroke="#56B4E9" stroke-width="3.0" fill="none"/>
<path d="M1447.10 54.10H1455.10M1451.10 49.60V58.60" stroke="#56B4E9" stroke-width="2.6" fill="none"/>
<path d="M1415.90 102.70H1487.80" stroke="#E51E10" stroke-width="3.0" fill="none"/>
<path d="M1447.10 98.20L1455.10 107.20M1447.10 107.20L1455.10 98.20" stroke="#E51E10" stroke-width="2.6" fill="none"/>
<path d="M1415.90 150.60H1487.80" stroke="#000000" stroke-width="3.0" fill="none"/>
<path d="M1447.10 150.60H1455.10M1451.10 146.10V155.10M1447.10 146.10L1455.10 155.10M1447.10 155.10L1455.10 146.10" stroke="#000000" stroke-width="2.6" fill="none"/>
<path d="M1415.90 199.60H1487.80" stroke="#009E73" stroke-width="3.0" fill="none"/>
<path d="M1447.00 194.90H1455.20V204.30H1447.00Z" stroke="#009E73" stroke-width="2.2" fill="none"/>
<text transform="translate(459.88,65.10) scale(0.9725,1)" font-family="Liberation Sans, sans-serif" font-size="28.5" fill="#000">725 K</text>
<text transform="translate(459.88,113.70) scale(0.9725,1)" font-family="Liberation Sans, sans-serif" font-size="28.5" fill="#000">775 K</text>
<text transform="translate(460.10,161.60) scale(0.9696,1)" font-family="Liberation Sans, sans-serif" font-size="28.5" fill="#000">875 K</text>
<text transform="translate(460.00,210.30) scale(0.9709,1)" font-family="Liberation Sans, sans-serif" font-size="28.5" fill="#000">975 K</text>
<text transform="translate(1319.10,65.10) scale(0.9842,1)" font-family="Liberation Sans, sans-serif" font-size="28.5" fill="#000">0.2 s</text>
<text transform="translate(1381.36,53.90) scale(0.8505,1)" font-family="Liberation Sans, sans-serif" font-size="19.5" fill="#000">-1</text>
<text transform="translate(1288.51,113.70) scale(0.9776,1)" font-family="Liberation Sans, sans-serif" font-size="28.5" fill="#000">0.027 s</text>
<text transform="translate(1381.36,102.50) scale(0.8505,1)" font-family="Liberation Sans, sans-serif" font-size="19.5" fill="#000">-1</text>
<text transform="translate(1288.51,161.60) scale(0.9776,1)" font-family="Liberation Sans, sans-serif" font-size="28.5" fill="#000">0.002 s</text>
<text transform="translate(1381.36,150.40) scale(0.8505,1)" font-family="Liberation Sans, sans-serif" font-size="19.5" fill="#000">-1</text>
<text transform="translate(1288.51,210.30) scale(0.9776,1)" font-family="Liberation Sans, sans-serif" font-size="28.5" fill="#000">0.001 s</text>
<text transform="translate(1381.36,199.10) scale(0.8505,1)" font-family="Liberation Sans, sans-serif" font-size="19.5" fill="#000">-1</text>
<text transform="translate(370.79,716.20) scale(1.1127,1)" font-family="Liberation Serif, serif" font-size="35" fill="#000">(a)</text>
<text transform="translate(1237.07,716.20) scale(1.1236,1)" font-family="Liberation Serif, serif" font-size="35" fill="#000">(b)</text>
</svg>
</body></html>
